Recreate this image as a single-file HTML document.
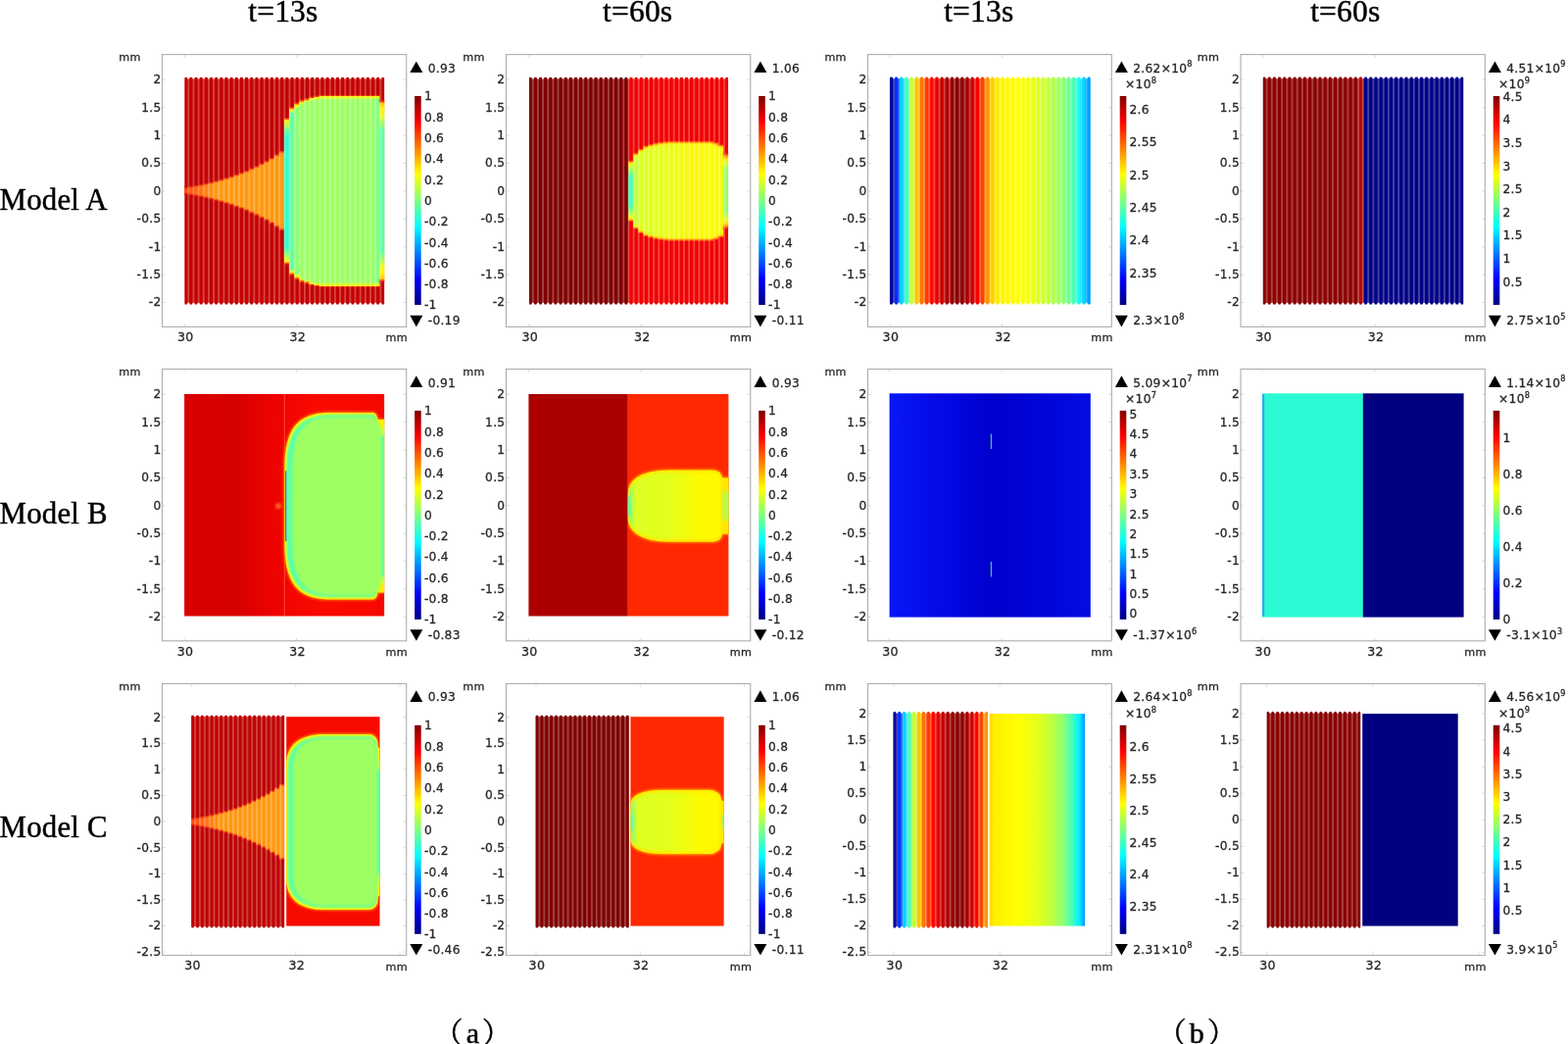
<!DOCTYPE html>
<html lang="en">
<head>
<meta charset="utf-8">
<title>Model A, B, C simulation results at t=13s and t=60s</title>
<style>
html,body{margin:0;padding:0;background:#fff;}
body{width:1600px;height:1065px;overflow:hidden;}
svg{display:block;}
.plots text{font-family:"DejaVu Sans", "Liberation Sans", sans-serif;stroke:#262626;stroke-width:0.28px;paint-order:stroke;letter-spacing:0.3px;}
.big text{font-family:"Liberation Serif", "Noto Serif CJK SC", serif;fill:#000;stroke:#000;stroke-width:0.45px;letter-spacing:0.2px;}
</style>
</head>
<body>
<svg width="1600" height="1065" viewBox="0 0 1600 1065">
<defs>
<linearGradient id="jetg" x1="0" y1="1" x2="0" y2="0"><stop offset="0" stop-color="#000080"/><stop offset="0.125" stop-color="#0000ff"/><stop offset="0.375" stop-color="#00ffff"/><stop offset="0.625" stop-color="#ffff00"/><stop offset="0.875" stop-color="#ff0000"/><stop offset="1" stop-color="#800000"/></linearGradient>
<filter id="b1" x="-20%" y="-20%" width="140%" height="140%"><feGaussianBlur stdDeviation="0.5"/></filter>
<filter id="b2" x="-20%" y="-20%" width="140%" height="140%"><feGaussianBlur stdDeviation="0.8"/></filter>
<filter id="b3" x="-20%" y="-20%" width="140%" height="140%"><feGaussianBlur stdDeviation="1.2"/></filter>
<filter id="b4" x="-20%" y="-20%" width="140%" height="140%"><feGaussianBlur stdDeviation="2.0"/></filter>
<filter id="b5" x="-20%" y="-20%" width="140%" height="140%"><feGaussianBlur stdDeviation="1.6"/></filter>
<filter id="b7" filterUnits="userSpaceOnUse" x="184.15" y="75.6" width="212.3" height="238.2"><feGaussianBlur stdDeviation="0.5"/></filter>
<mask id="m6" maskUnits="userSpaceOnUse" x="184.15" y="75.6" width="212.3" height="238.2"><rect x="188.78" y="80.53" width="203.04" height="228.34" fill="rgb(189,189,189)"/><path d="M189.73 80.23V309.17M194.89 80.23V309.17M200.04 80.23V309.17M205.2 80.23V309.17M210.36 80.23V309.17M215.52 80.23V309.17M220.67 80.23V309.17M225.83 80.23V309.17M230.99 80.23V309.17M236.15 80.23V309.17M241.3 80.23V309.17M246.46 80.23V309.17M251.62 80.23V309.17M256.78 80.23V309.17M261.93 80.23V309.17M267.09 80.23V309.17M272.25 80.23V309.17M277.41 80.23V309.17M282.56 80.23V309.17M287.72 80.23V309.17M292.88 80.23V309.17M298.04 80.23V309.17M303.19 80.23V309.17M308.35 80.23V309.17M313.51 80.23V309.17M318.67 80.23V309.17M323.82 80.23V309.17M328.98 80.23V309.17M334.14 80.23V309.17M339.3 80.23V309.17M344.45 80.23V309.17M349.61 80.23V309.17M354.77 80.23V309.17M359.93 80.23V309.17M365.08 80.23V309.17M370.24 80.23V309.17M375.4 80.23V309.17M380.56 80.23V309.17M385.71 80.23V309.17M390.87 80.23V309.17" stroke="#fff" stroke-width="3.26" stroke-linecap="round" fill="none" filter="url(#b7)"/></mask>
<linearGradient id="g8" gradientUnits="userSpaceOnUse" x1="0" y1="190.27" x2="0" y2="198.73"><stop offset="0" stop-color="#c40000"/><stop offset="0.13" stop-color="#ee2400"/><stop offset="0.34" stop-color="#ff4d14"/><stop offset="0.5" stop-color="#ff4d14"/><stop offset="0.66" stop-color="#ff4d14"/><stop offset="0.87" stop-color="#ee2400"/><stop offset="1" stop-color="#c40000"/></linearGradient>
<linearGradient id="g9" gradientUnits="userSpaceOnUse" x1="0" y1="189.36" x2="0" y2="199.64"><stop offset="0" stop-color="#c40000"/><stop offset="0.11" stop-color="#ee2400"/><stop offset="0.28" stop-color="#ff5a13"/><stop offset="0.5" stop-color="#ff5a13"/><stop offset="0.72" stop-color="#ff5a13"/><stop offset="0.89" stop-color="#ee2400"/><stop offset="1" stop-color="#c40000"/></linearGradient>
<linearGradient id="g10" gradientUnits="userSpaceOnUse" x1="0" y1="188.38" x2="0" y2="200.62"><stop offset="0" stop-color="#c40000"/><stop offset="0.09" stop-color="#ee2400"/><stop offset="0.24" stop-color="#ff6712"/><stop offset="0.5" stop-color="#ff6712"/><stop offset="0.76" stop-color="#ff6712"/><stop offset="0.91" stop-color="#ee2400"/><stop offset="1" stop-color="#c40000"/></linearGradient>
<linearGradient id="g11" gradientUnits="userSpaceOnUse" x1="0" y1="187.32" x2="0" y2="201.68"><stop offset="0" stop-color="#c40000"/><stop offset="0.08" stop-color="#ee2400"/><stop offset="0.2" stop-color="#ff7412"/><stop offset="0.5" stop-color="#ff7412"/><stop offset="0.8" stop-color="#ff7412"/><stop offset="0.92" stop-color="#ee2400"/><stop offset="1" stop-color="#c40000"/></linearGradient>
<linearGradient id="g12" gradientUnits="userSpaceOnUse" x1="0" y1="186.18" x2="0" y2="202.82"><stop offset="0" stop-color="#c40000"/><stop offset="0.07" stop-color="#ee2400"/><stop offset="0.17" stop-color="#ff8111"/><stop offset="0.5" stop-color="#ff8111"/><stop offset="0.83" stop-color="#ff8111"/><stop offset="0.93" stop-color="#ee2400"/><stop offset="1" stop-color="#c40000"/></linearGradient>
<linearGradient id="g13" gradientUnits="userSpaceOnUse" x1="0" y1="184.95" x2="0" y2="204.05"><stop offset="0" stop-color="#c40000"/><stop offset="0.06" stop-color="#ee2400"/><stop offset="0.15" stop-color="#ff8e10"/><stop offset="0.5" stop-color="#ff8e10"/><stop offset="0.85" stop-color="#ff8e10"/><stop offset="0.94" stop-color="#ee2400"/><stop offset="1" stop-color="#c40000"/></linearGradient>
<linearGradient id="g14" gradientUnits="userSpaceOnUse" x1="0" y1="183.63" x2="0" y2="205.37"><stop offset="0" stop-color="#c40000"/><stop offset="0.05" stop-color="#ee2400"/><stop offset="0.13" stop-color="#ff9810"/><stop offset="0.5" stop-color="#ff9810"/><stop offset="0.87" stop-color="#ff9810"/><stop offset="0.95" stop-color="#ee2400"/><stop offset="1" stop-color="#c40000"/></linearGradient>
<linearGradient id="g15" gradientUnits="userSpaceOnUse" x1="0" y1="182.2" x2="0" y2="206.8"><stop offset="0" stop-color="#c40000"/><stop offset="0.04" stop-color="#ee2400"/><stop offset="0.12" stop-color="#ff9810"/><stop offset="0.5" stop-color="#ff9810"/><stop offset="0.88" stop-color="#ff9810"/><stop offset="0.96" stop-color="#ee2400"/><stop offset="1" stop-color="#c40000"/></linearGradient>
<linearGradient id="g16" gradientUnits="userSpaceOnUse" x1="0" y1="180.66" x2="0" y2="208.34"><stop offset="0" stop-color="#c40000"/><stop offset="0.04" stop-color="#ee2400"/><stop offset="0.1" stop-color="#ff9810"/><stop offset="0.5" stop-color="#ff9810"/><stop offset="0.9" stop-color="#ff9810"/><stop offset="0.96" stop-color="#ee2400"/><stop offset="1" stop-color="#c40000"/></linearGradient>
<linearGradient id="g17" gradientUnits="userSpaceOnUse" x1="0" y1="179" x2="0" y2="210"><stop offset="0" stop-color="#c40000"/><stop offset="0.04" stop-color="#ee2400"/><stop offset="0.09" stop-color="#ff9810"/><stop offset="0.5" stop-color="#ff9810"/><stop offset="0.91" stop-color="#ff9810"/><stop offset="0.96" stop-color="#ee2400"/><stop offset="1" stop-color="#c40000"/></linearGradient>
<linearGradient id="g18" gradientUnits="userSpaceOnUse" x1="0" y1="177.21" x2="0" y2="211.79"><stop offset="0" stop-color="#c40000"/><stop offset="0.03" stop-color="#ee2400"/><stop offset="0.08" stop-color="#ff9810"/><stop offset="0.5" stop-color="#ff9810"/><stop offset="0.92" stop-color="#ff9810"/><stop offset="0.97" stop-color="#ee2400"/><stop offset="1" stop-color="#c40000"/></linearGradient>
<linearGradient id="g19" gradientUnits="userSpaceOnUse" x1="0" y1="175.29" x2="0" y2="213.71"><stop offset="0" stop-color="#c40000"/><stop offset="0.03" stop-color="#ee2400"/><stop offset="0.08" stop-color="#ff9810"/><stop offset="0.5" stop-color="#ff9810"/><stop offset="0.92" stop-color="#ff9810"/><stop offset="0.97" stop-color="#ee2400"/><stop offset="1" stop-color="#c40000"/></linearGradient>
<linearGradient id="g20" gradientUnits="userSpaceOnUse" x1="0" y1="173.21" x2="0" y2="215.79"><stop offset="0" stop-color="#c40000"/><stop offset="0.03" stop-color="#ee2400"/><stop offset="0.07" stop-color="#ff9810"/><stop offset="0.5" stop-color="#ff9810"/><stop offset="0.93" stop-color="#ff9810"/><stop offset="0.97" stop-color="#ee2400"/><stop offset="1" stop-color="#c40000"/></linearGradient>
<linearGradient id="g21" gradientUnits="userSpaceOnUse" x1="0" y1="170.97" x2="0" y2="218.03"><stop offset="0" stop-color="#c40000"/><stop offset="0.02" stop-color="#ee2400"/><stop offset="0.06" stop-color="#ff9810"/><stop offset="0.5" stop-color="#ff9810"/><stop offset="0.94" stop-color="#ff9810"/><stop offset="0.98" stop-color="#ee2400"/><stop offset="1" stop-color="#c40000"/></linearGradient>
<linearGradient id="g22" gradientUnits="userSpaceOnUse" x1="0" y1="168.56" x2="0" y2="220.44"><stop offset="0" stop-color="#c40000"/><stop offset="0.02" stop-color="#ee2400"/><stop offset="0.06" stop-color="#ff9810"/><stop offset="0.5" stop-color="#ff9810"/><stop offset="0.94" stop-color="#ff9810"/><stop offset="0.98" stop-color="#ee2400"/><stop offset="1" stop-color="#c40000"/></linearGradient>
<linearGradient id="g23" gradientUnits="userSpaceOnUse" x1="0" y1="165.95" x2="0" y2="223.05"><stop offset="0" stop-color="#c40000"/><stop offset="0.02" stop-color="#ee2400"/><stop offset="0.05" stop-color="#ff9810"/><stop offset="0.5" stop-color="#ff9810"/><stop offset="0.95" stop-color="#ff9810"/><stop offset="0.98" stop-color="#ee2400"/><stop offset="1" stop-color="#c40000"/></linearGradient>
<linearGradient id="g24" gradientUnits="userSpaceOnUse" x1="0" y1="163.15" x2="0" y2="225.85"><stop offset="0" stop-color="#c40000"/><stop offset="0.02" stop-color="#ee2400"/><stop offset="0.05" stop-color="#ff9810"/><stop offset="0.5" stop-color="#ff9810"/><stop offset="0.95" stop-color="#ff9810"/><stop offset="0.98" stop-color="#ee2400"/><stop offset="1" stop-color="#c40000"/></linearGradient>
<linearGradient id="g25" gradientUnits="userSpaceOnUse" x1="0" y1="160.13" x2="0" y2="228.87"><stop offset="0" stop-color="#c40000"/><stop offset="0.02" stop-color="#ee2400"/><stop offset="0.04" stop-color="#ff9810"/><stop offset="0.5" stop-color="#ff9810"/><stop offset="0.96" stop-color="#ff9810"/><stop offset="0.98" stop-color="#ee2400"/><stop offset="1" stop-color="#c40000"/></linearGradient>
<linearGradient id="g26" gradientUnits="userSpaceOnUse" x1="0" y1="156.87" x2="0" y2="232.13"><stop offset="0" stop-color="#c40000"/><stop offset="0.01" stop-color="#ee2400"/><stop offset="0.04" stop-color="#ff9810"/><stop offset="0.5" stop-color="#ff9810"/><stop offset="0.96" stop-color="#ff9810"/><stop offset="0.99" stop-color="#ee2400"/><stop offset="1" stop-color="#c40000"/></linearGradient>
<linearGradient id="g27" gradientUnits="userSpaceOnUse" x1="0" y1="153.36" x2="0" y2="235.64"><stop offset="0" stop-color="#c40000"/><stop offset="0.01" stop-color="#ee2400"/><stop offset="0.04" stop-color="#ff9810"/><stop offset="0.5" stop-color="#ff9810"/><stop offset="0.96" stop-color="#ff9810"/><stop offset="0.99" stop-color="#ee2400"/><stop offset="1" stop-color="#c40000"/></linearGradient>
<linearGradient id="g28" gradientUnits="userSpaceOnUse" x1="0" y1="119.7" x2="0" y2="270.1"><stop offset="0" stop-color="#c40000"/><stop offset="0.01" stop-color="#ff4600"/><stop offset="0.02" stop-color="#ffec00"/><stop offset="0.05" stop-color="#beff46"/><stop offset="0.09" stop-color="#60ffa0"/><stop offset="0.13" stop-color="#30ffcd"/><stop offset="0.5" stop-color="#30ffcd"/><stop offset="0.87" stop-color="#30ffcd"/><stop offset="0.91" stop-color="#60ffa0"/><stop offset="0.95" stop-color="#beff46"/><stop offset="0.98" stop-color="#ffec00"/><stop offset="0.99" stop-color="#ff4600"/><stop offset="1" stop-color="#c40000"/></linearGradient>
<linearGradient id="g29" gradientUnits="userSpaceOnUse" x1="0" y1="108.5" x2="0" y2="281.3"><stop offset="0" stop-color="#c40000"/><stop offset="0.01" stop-color="#ff4600"/><stop offset="0.02" stop-color="#fff000"/><stop offset="0.03" stop-color="#c8ff3c"/><stop offset="0.04" stop-color="#60ffa0"/><stop offset="0.5" stop-color="#60ffa0"/><stop offset="0.96" stop-color="#60ffa0"/><stop offset="0.97" stop-color="#c8ff3c"/><stop offset="0.98" stop-color="#fff000"/><stop offset="0.99" stop-color="#ff4600"/><stop offset="1" stop-color="#c40000"/></linearGradient>
<linearGradient id="g30" gradientUnits="userSpaceOnUse" x1="0" y1="103.9" x2="0" y2="285.9"><stop offset="0" stop-color="#c40000"/><stop offset="0.01" stop-color="#ff4600"/><stop offset="0.02" stop-color="#fff000"/><stop offset="0.03" stop-color="#c8ff3c"/><stop offset="0.04" stop-color="#8cff74"/><stop offset="0.5" stop-color="#8cff74"/><stop offset="0.96" stop-color="#8cff74"/><stop offset="0.97" stop-color="#c8ff3c"/><stop offset="0.98" stop-color="#fff000"/><stop offset="0.99" stop-color="#ff4600"/><stop offset="1" stop-color="#c40000"/></linearGradient>
<linearGradient id="g31" gradientUnits="userSpaceOnUse" x1="0" y1="100.9" x2="0" y2="288.9"><stop offset="0" stop-color="#c40000"/><stop offset="0.01" stop-color="#ff4600"/><stop offset="0.02" stop-color="#fff000"/><stop offset="0.02" stop-color="#c8ff3c"/><stop offset="0.04" stop-color="#9cff64"/><stop offset="0.5" stop-color="#9cff64"/><stop offset="0.96" stop-color="#9cff64"/><stop offset="0.98" stop-color="#c8ff3c"/><stop offset="0.98" stop-color="#fff000"/><stop offset="0.99" stop-color="#ff4600"/><stop offset="1" stop-color="#c40000"/></linearGradient>
<linearGradient id="g32" gradientUnits="userSpaceOnUse" x1="0" y1="99.3" x2="0" y2="290.5"><stop offset="0" stop-color="#c40000"/><stop offset="0.01" stop-color="#ff4600"/><stop offset="0.02" stop-color="#fff000"/><stop offset="0.02" stop-color="#c8ff3c"/><stop offset="0.03" stop-color="#9cff64"/><stop offset="0.5" stop-color="#9cff64"/><stop offset="0.97" stop-color="#9cff64"/><stop offset="0.98" stop-color="#c8ff3c"/><stop offset="0.98" stop-color="#fff000"/><stop offset="0.99" stop-color="#ff4600"/><stop offset="1" stop-color="#c40000"/></linearGradient>
<linearGradient id="g33" gradientUnits="userSpaceOnUse" x1="0" y1="97.9" x2="0" y2="291.9"><stop offset="0" stop-color="#c40000"/><stop offset="0.01" stop-color="#ff4600"/><stop offset="0.01" stop-color="#fff000"/><stop offset="0.02" stop-color="#c8ff3c"/><stop offset="0.03" stop-color="#9cff64"/><stop offset="0.5" stop-color="#9cff64"/><stop offset="0.97" stop-color="#9cff64"/><stop offset="0.98" stop-color="#c8ff3c"/><stop offset="0.99" stop-color="#fff000"/><stop offset="0.99" stop-color="#ff4600"/><stop offset="1" stop-color="#c40000"/></linearGradient>
<linearGradient id="g34" gradientUnits="userSpaceOnUse" x1="0" y1="96.9" x2="0" y2="292.9"><stop offset="0" stop-color="#c40000"/><stop offset="0.01" stop-color="#ff4600"/><stop offset="0.01" stop-color="#fff000"/><stop offset="0.02" stop-color="#c8ff3c"/><stop offset="0.03" stop-color="#9cff64"/><stop offset="0.5" stop-color="#9cff64"/><stop offset="0.97" stop-color="#9cff64"/><stop offset="0.98" stop-color="#c8ff3c"/><stop offset="0.99" stop-color="#fff000"/><stop offset="0.99" stop-color="#ff4600"/><stop offset="1" stop-color="#c40000"/></linearGradient>
<linearGradient id="g35" gradientUnits="userSpaceOnUse" x1="0" y1="96.3" x2="0" y2="293.5"><stop offset="0" stop-color="#c40000"/><stop offset="0.01" stop-color="#ff4600"/><stop offset="0.01" stop-color="#fff000"/><stop offset="0.02" stop-color="#c8ff3c"/><stop offset="0.03" stop-color="#9cff64"/><stop offset="0.5" stop-color="#9cff64"/><stop offset="0.97" stop-color="#9cff64"/><stop offset="0.98" stop-color="#c8ff3c"/><stop offset="0.99" stop-color="#fff000"/><stop offset="0.99" stop-color="#ff4600"/><stop offset="1" stop-color="#c40000"/></linearGradient>
<linearGradient id="g36" gradientUnits="userSpaceOnUse" x1="0" y1="96.3" x2="0" y2="293.5"><stop offset="0" stop-color="#c40000"/><stop offset="0.01" stop-color="#ff4600"/><stop offset="0.01" stop-color="#fff000"/><stop offset="0.02" stop-color="#c8ff3c"/><stop offset="0.03" stop-color="#9cff64"/><stop offset="0.5" stop-color="#9cff64"/><stop offset="0.97" stop-color="#9cff64"/><stop offset="0.98" stop-color="#c8ff3c"/><stop offset="0.99" stop-color="#fff000"/><stop offset="0.99" stop-color="#ff4600"/><stop offset="1" stop-color="#c40000"/></linearGradient>
<linearGradient id="g37" gradientUnits="userSpaceOnUse" x1="0" y1="96.3" x2="0" y2="293.5"><stop offset="0" stop-color="#c40000"/><stop offset="0.01" stop-color="#ff4600"/><stop offset="0.01" stop-color="#fff000"/><stop offset="0.02" stop-color="#c8ff3c"/><stop offset="0.03" stop-color="#9cff64"/><stop offset="0.5" stop-color="#9cff64"/><stop offset="0.97" stop-color="#9cff64"/><stop offset="0.98" stop-color="#c8ff3c"/><stop offset="0.99" stop-color="#fff000"/><stop offset="0.99" stop-color="#ff4600"/><stop offset="1" stop-color="#c40000"/></linearGradient>
<linearGradient id="g38" gradientUnits="userSpaceOnUse" x1="0" y1="96.3" x2="0" y2="293.5"><stop offset="0" stop-color="#c40000"/><stop offset="0.01" stop-color="#ff4600"/><stop offset="0.01" stop-color="#fff000"/><stop offset="0.02" stop-color="#c8ff3c"/><stop offset="0.03" stop-color="#9cff64"/><stop offset="0.5" stop-color="#9cff64"/><stop offset="0.97" stop-color="#9cff64"/><stop offset="0.98" stop-color="#c8ff3c"/><stop offset="0.99" stop-color="#fff000"/><stop offset="0.99" stop-color="#ff4600"/><stop offset="1" stop-color="#c40000"/></linearGradient>
<linearGradient id="g39" gradientUnits="userSpaceOnUse" x1="0" y1="96.3" x2="0" y2="293.5"><stop offset="0" stop-color="#c40000"/><stop offset="0.01" stop-color="#ff4600"/><stop offset="0.01" stop-color="#fff000"/><stop offset="0.02" stop-color="#c8ff3c"/><stop offset="0.03" stop-color="#9cff64"/><stop offset="0.5" stop-color="#9cff64"/><stop offset="0.97" stop-color="#9cff64"/><stop offset="0.98" stop-color="#c8ff3c"/><stop offset="0.99" stop-color="#fff000"/><stop offset="0.99" stop-color="#ff4600"/><stop offset="1" stop-color="#c40000"/></linearGradient>
<linearGradient id="g40" gradientUnits="userSpaceOnUse" x1="0" y1="96.3" x2="0" y2="293.5"><stop offset="0" stop-color="#c40000"/><stop offset="0.01" stop-color="#ff4600"/><stop offset="0.01" stop-color="#fff000"/><stop offset="0.02" stop-color="#c8ff3c"/><stop offset="0.03" stop-color="#9cff64"/><stop offset="0.5" stop-color="#9cff64"/><stop offset="0.97" stop-color="#9cff64"/><stop offset="0.98" stop-color="#c8ff3c"/><stop offset="0.99" stop-color="#fff000"/><stop offset="0.99" stop-color="#ff4600"/><stop offset="1" stop-color="#c40000"/></linearGradient>
<linearGradient id="g41" gradientUnits="userSpaceOnUse" x1="0" y1="96.3" x2="0" y2="293.5"><stop offset="0" stop-color="#c40000"/><stop offset="0.01" stop-color="#ff4600"/><stop offset="0.01" stop-color="#fff000"/><stop offset="0.02" stop-color="#c8ff3c"/><stop offset="0.03" stop-color="#9cff64"/><stop offset="0.5" stop-color="#9cff64"/><stop offset="0.97" stop-color="#9cff64"/><stop offset="0.98" stop-color="#c8ff3c"/><stop offset="0.99" stop-color="#fff000"/><stop offset="0.99" stop-color="#ff4600"/><stop offset="1" stop-color="#c40000"/></linearGradient>
<linearGradient id="g42" gradientUnits="userSpaceOnUse" x1="0" y1="96.3" x2="0" y2="293.5"><stop offset="0" stop-color="#c40000"/><stop offset="0.01" stop-color="#ff4600"/><stop offset="0.01" stop-color="#fff000"/><stop offset="0.02" stop-color="#c8ff3c"/><stop offset="0.03" stop-color="#9cff64"/><stop offset="0.5" stop-color="#9cff64"/><stop offset="0.97" stop-color="#9cff64"/><stop offset="0.98" stop-color="#c8ff3c"/><stop offset="0.99" stop-color="#fff000"/><stop offset="0.99" stop-color="#ff4600"/><stop offset="1" stop-color="#c40000"/></linearGradient>
<linearGradient id="g43" gradientUnits="userSpaceOnUse" x1="0" y1="96.3" x2="0" y2="293.5"><stop offset="0" stop-color="#c40000"/><stop offset="0.01" stop-color="#ff4600"/><stop offset="0.01" stop-color="#fff000"/><stop offset="0.02" stop-color="#c8ff3c"/><stop offset="0.03" stop-color="#9cff64"/><stop offset="0.5" stop-color="#9cff64"/><stop offset="0.97" stop-color="#9cff64"/><stop offset="0.98" stop-color="#c8ff3c"/><stop offset="0.99" stop-color="#fff000"/><stop offset="0.99" stop-color="#ff4600"/><stop offset="1" stop-color="#c40000"/></linearGradient>
<linearGradient id="g44" gradientUnits="userSpaceOnUse" x1="0" y1="96.3" x2="0" y2="293.5"><stop offset="0" stop-color="#c40000"/><stop offset="0.01" stop-color="#ff4600"/><stop offset="0.01" stop-color="#fff000"/><stop offset="0.02" stop-color="#c8ff3c"/><stop offset="0.03" stop-color="#9cff64"/><stop offset="0.5" stop-color="#9cff64"/><stop offset="0.97" stop-color="#9cff64"/><stop offset="0.98" stop-color="#c8ff3c"/><stop offset="0.99" stop-color="#fff000"/><stop offset="0.99" stop-color="#ff4600"/><stop offset="1" stop-color="#c40000"/></linearGradient>
<linearGradient id="g45" gradientUnits="userSpaceOnUse" x1="0" y1="96.3" x2="0" y2="293.5"><stop offset="0" stop-color="#c40000"/><stop offset="0.01" stop-color="#ff4600"/><stop offset="0.01" stop-color="#fff000"/><stop offset="0.02" stop-color="#c8ff3c"/><stop offset="0.03" stop-color="#9cff64"/><stop offset="0.5" stop-color="#9cff64"/><stop offset="0.97" stop-color="#9cff64"/><stop offset="0.98" stop-color="#c8ff3c"/><stop offset="0.99" stop-color="#fff000"/><stop offset="0.99" stop-color="#ff4600"/><stop offset="1" stop-color="#c40000"/></linearGradient>
<linearGradient id="g46" gradientUnits="userSpaceOnUse" x1="0" y1="96.3" x2="0" y2="293.5"><stop offset="0" stop-color="#c40000"/><stop offset="0.01" stop-color="#ff4600"/><stop offset="0.01" stop-color="#fff000"/><stop offset="0.02" stop-color="#c8ff3c"/><stop offset="0.03" stop-color="#84ff80"/><stop offset="0.5" stop-color="#84ff80"/><stop offset="0.97" stop-color="#84ff80"/><stop offset="0.98" stop-color="#c8ff3c"/><stop offset="0.99" stop-color="#fff000"/><stop offset="0.99" stop-color="#ff4600"/><stop offset="1" stop-color="#c40000"/></linearGradient>
<linearGradient id="g47" gradientUnits="userSpaceOnUse" x1="0" y1="101.8" x2="0" y2="288"><stop offset="0" stop-color="#c40000"/><stop offset="0.01" stop-color="#ff3c00"/><stop offset="0.02" stop-color="#ffc800"/><stop offset="0.05" stop-color="#fff000"/><stop offset="0.09" stop-color="#ebfc18"/><stop offset="0.12" stop-color="#aaff5a"/><stop offset="0.17" stop-color="#5cffa6"/><stop offset="0.5" stop-color="#5cffa6"/><stop offset="0.83" stop-color="#5cffa6"/><stop offset="0.88" stop-color="#aaff5a"/><stop offset="0.91" stop-color="#ebfc18"/><stop offset="0.95" stop-color="#fff000"/><stop offset="0.98" stop-color="#ffc800"/><stop offset="0.99" stop-color="#ff3c00"/><stop offset="1" stop-color="#c40000"/></linearGradient>
<filter id="b49" filterUnits="userSpaceOnUse" x="535.65" y="75.6" width="211.6" height="238.2"><feGaussianBlur stdDeviation="0.5"/></filter>
<mask id="m48" maskUnits="userSpaceOnUse" x="535.65" y="75.6" width="211.6" height="238.2"><rect x="540.27" y="80.52" width="202.36" height="228.36" fill="rgb(189,189,189)"/><path d="M541.22 80.22V309.18M546.36 80.22V309.18M551.5 80.22V309.18M556.64 80.22V309.18M561.78 80.22V309.18M566.92 80.22V309.18M572.06 80.22V309.18M577.2 80.22V309.18M582.34 80.22V309.18M587.48 80.22V309.18M592.62 80.22V309.18M597.76 80.22V309.18M602.9 80.22V309.18M608.04 80.22V309.18M613.18 80.22V309.18M618.32 80.22V309.18M623.46 80.22V309.18M628.6 80.22V309.18M633.74 80.22V309.18M638.88 80.22V309.18M644.02 80.22V309.18M649.16 80.22V309.18M654.3 80.22V309.18M659.44 80.22V309.18M664.58 80.22V309.18M669.72 80.22V309.18M674.86 80.22V309.18M680 80.22V309.18M685.14 80.22V309.18M690.28 80.22V309.18M695.42 80.22V309.18M700.56 80.22V309.18M705.7 80.22V309.18M710.84 80.22V309.18M715.98 80.22V309.18M721.12 80.22V309.18M726.26 80.22V309.18M731.4 80.22V309.18M736.54 80.22V309.18M741.68 80.22V309.18" stroke="#fff" stroke-width="3.24" stroke-linecap="round" fill="none" filter="url(#b49)"/></mask>
<linearGradient id="g50" gradientUnits="userSpaceOnUse" x1="0" y1="163.2" x2="0" y2="226.6"><stop offset="0" stop-color="#f00000"/><stop offset="0.02" stop-color="#ff5000"/><stop offset="0.05" stop-color="#ffe100"/><stop offset="0.09" stop-color="#e1ff1e"/><stop offset="0.17" stop-color="#96ff69"/><stop offset="0.27" stop-color="#46ffb8"/><stop offset="0.5" stop-color="#46ffb8"/><stop offset="0.73" stop-color="#46ffb8"/><stop offset="0.83" stop-color="#96ff69"/><stop offset="0.91" stop-color="#e1ff1e"/><stop offset="0.95" stop-color="#ffe100"/><stop offset="0.98" stop-color="#ff5000"/><stop offset="1" stop-color="#f00000"/></linearGradient>
<linearGradient id="g51" gradientUnits="userSpaceOnUse" x1="0" y1="155.2" x2="0" y2="234.6"><stop offset="0" stop-color="#f00000"/><stop offset="0.02" stop-color="#ff5000"/><stop offset="0.04" stop-color="#ffeb00"/><stop offset="0.06" stop-color="#e1ff20"/><stop offset="0.13" stop-color="#c4ff3e"/><stop offset="0.5" stop-color="#c4ff3e"/><stop offset="0.87" stop-color="#c4ff3e"/><stop offset="0.94" stop-color="#e1ff20"/><stop offset="0.96" stop-color="#ffeb00"/><stop offset="0.98" stop-color="#ff5000"/><stop offset="1" stop-color="#f00000"/></linearGradient>
<linearGradient id="g52" gradientUnits="userSpaceOnUse" x1="0" y1="151.4" x2="0" y2="238.4"><stop offset="0" stop-color="#f00000"/><stop offset="0.01" stop-color="#ff5000"/><stop offset="0.03" stop-color="#ffe100"/><stop offset="0.05" stop-color="#dafe26"/><stop offset="0.5" stop-color="#dafe26"/><stop offset="0.95" stop-color="#dafe26"/><stop offset="0.97" stop-color="#ffe100"/><stop offset="0.99" stop-color="#ff5000"/><stop offset="1" stop-color="#f00000"/></linearGradient>
<linearGradient id="g53" gradientUnits="userSpaceOnUse" x1="0" y1="148.1" x2="0" y2="241.7"><stop offset="0" stop-color="#f00000"/><stop offset="0.01" stop-color="#ff5000"/><stop offset="0.03" stop-color="#ffe100"/><stop offset="0.05" stop-color="#ddfe23"/><stop offset="0.5" stop-color="#ddfe23"/><stop offset="0.95" stop-color="#ddfe23"/><stop offset="0.97" stop-color="#ffe100"/><stop offset="0.99" stop-color="#ff5000"/><stop offset="1" stop-color="#f00000"/></linearGradient>
<linearGradient id="g54" gradientUnits="userSpaceOnUse" x1="0" y1="146.6" x2="0" y2="243.2"><stop offset="0" stop-color="#f00000"/><stop offset="0.01" stop-color="#ff5000"/><stop offset="0.03" stop-color="#ffe100"/><stop offset="0.05" stop-color="#e0fd21"/><stop offset="0.5" stop-color="#e0fd21"/><stop offset="0.95" stop-color="#e0fd21"/><stop offset="0.97" stop-color="#ffe100"/><stop offset="0.99" stop-color="#ff5000"/><stop offset="1" stop-color="#f00000"/></linearGradient>
<linearGradient id="g55" gradientUnits="userSpaceOnUse" x1="0" y1="145.2" x2="0" y2="244.6"><stop offset="0" stop-color="#f00000"/><stop offset="0.01" stop-color="#ff5000"/><stop offset="0.03" stop-color="#ffe100"/><stop offset="0.05" stop-color="#e3fd1e"/><stop offset="0.5" stop-color="#e3fd1e"/><stop offset="0.95" stop-color="#e3fd1e"/><stop offset="0.97" stop-color="#ffe100"/><stop offset="0.99" stop-color="#ff5000"/><stop offset="1" stop-color="#f00000"/></linearGradient>
<linearGradient id="g56" gradientUnits="userSpaceOnUse" x1="0" y1="144.3" x2="0" y2="245.5"><stop offset="0" stop-color="#f00000"/><stop offset="0.01" stop-color="#ff5000"/><stop offset="0.03" stop-color="#ffe100"/><stop offset="0.05" stop-color="#e6fd1b"/><stop offset="0.5" stop-color="#e6fd1b"/><stop offset="0.95" stop-color="#e6fd1b"/><stop offset="0.97" stop-color="#ffe100"/><stop offset="0.99" stop-color="#ff5000"/><stop offset="1" stop-color="#f00000"/></linearGradient>
<linearGradient id="g57" gradientUnits="userSpaceOnUse" x1="0" y1="143.8" x2="0" y2="246"><stop offset="0" stop-color="#f00000"/><stop offset="0.01" stop-color="#ff5000"/><stop offset="0.03" stop-color="#ffe100"/><stop offset="0.05" stop-color="#e9fc18"/><stop offset="0.5" stop-color="#e9fc18"/><stop offset="0.95" stop-color="#e9fc18"/><stop offset="0.97" stop-color="#ffe100"/><stop offset="0.99" stop-color="#ff5000"/><stop offset="1" stop-color="#f00000"/></linearGradient>
<linearGradient id="g58" gradientUnits="userSpaceOnUse" x1="0" y1="143.4" x2="0" y2="246.4"><stop offset="0" stop-color="#f00000"/><stop offset="0.01" stop-color="#ff5000"/><stop offset="0.03" stop-color="#ffe100"/><stop offset="0.04" stop-color="#ecfc15"/><stop offset="0.5" stop-color="#ecfc15"/><stop offset="0.96" stop-color="#ecfc15"/><stop offset="0.97" stop-color="#ffe100"/><stop offset="0.99" stop-color="#ff5000"/><stop offset="1" stop-color="#f00000"/></linearGradient>
<linearGradient id="g59" gradientUnits="userSpaceOnUse" x1="0" y1="143.4" x2="0" y2="246.4"><stop offset="0" stop-color="#f00000"/><stop offset="0.01" stop-color="#ff5000"/><stop offset="0.03" stop-color="#ffe100"/><stop offset="0.04" stop-color="#effb12"/><stop offset="0.5" stop-color="#effb12"/><stop offset="0.96" stop-color="#effb12"/><stop offset="0.97" stop-color="#ffe100"/><stop offset="0.99" stop-color="#ff5000"/><stop offset="1" stop-color="#f00000"/></linearGradient>
<linearGradient id="g60" gradientUnits="userSpaceOnUse" x1="0" y1="143.4" x2="0" y2="246.4"><stop offset="0" stop-color="#f00000"/><stop offset="0.01" stop-color="#ff5000"/><stop offset="0.03" stop-color="#ffe100"/><stop offset="0.04" stop-color="#f2fb10"/><stop offset="0.5" stop-color="#f2fb10"/><stop offset="0.96" stop-color="#f2fb10"/><stop offset="0.97" stop-color="#ffe100"/><stop offset="0.99" stop-color="#ff5000"/><stop offset="1" stop-color="#f00000"/></linearGradient>
<linearGradient id="g61" gradientUnits="userSpaceOnUse" x1="0" y1="143.4" x2="0" y2="246.4"><stop offset="0" stop-color="#f00000"/><stop offset="0.01" stop-color="#ff5000"/><stop offset="0.03" stop-color="#ffe100"/><stop offset="0.04" stop-color="#f5fb0d"/><stop offset="0.5" stop-color="#f5fb0d"/><stop offset="0.96" stop-color="#f5fb0d"/><stop offset="0.97" stop-color="#ffe100"/><stop offset="0.99" stop-color="#ff5000"/><stop offset="1" stop-color="#f00000"/></linearGradient>
<linearGradient id="g62" gradientUnits="userSpaceOnUse" x1="0" y1="143.4" x2="0" y2="246.4"><stop offset="0" stop-color="#f00000"/><stop offset="0.01" stop-color="#ff5000"/><stop offset="0.03" stop-color="#ffe100"/><stop offset="0.04" stop-color="#f8fa0a"/><stop offset="0.5" stop-color="#f8fa0a"/><stop offset="0.96" stop-color="#f8fa0a"/><stop offset="0.97" stop-color="#ffe100"/><stop offset="0.99" stop-color="#ff5000"/><stop offset="1" stop-color="#f00000"/></linearGradient>
<linearGradient id="g63" gradientUnits="userSpaceOnUse" x1="0" y1="143.4" x2="0" y2="246.4"><stop offset="0" stop-color="#f00000"/><stop offset="0.01" stop-color="#ff5000"/><stop offset="0.03" stop-color="#ffe100"/><stop offset="0.04" stop-color="#fafa08"/><stop offset="0.5" stop-color="#fafa08"/><stop offset="0.96" stop-color="#fafa08"/><stop offset="0.97" stop-color="#ffe100"/><stop offset="0.99" stop-color="#ff5000"/><stop offset="1" stop-color="#f00000"/></linearGradient>
<linearGradient id="g64" gradientUnits="userSpaceOnUse" x1="0" y1="143.4" x2="0" y2="246.4"><stop offset="0" stop-color="#f00000"/><stop offset="0.01" stop-color="#ff5000"/><stop offset="0.03" stop-color="#ffe100"/><stop offset="0.04" stop-color="#fafa08"/><stop offset="0.5" stop-color="#fafa08"/><stop offset="0.96" stop-color="#fafa08"/><stop offset="0.97" stop-color="#ffe100"/><stop offset="0.99" stop-color="#ff5000"/><stop offset="1" stop-color="#f00000"/></linearGradient>
<linearGradient id="g65" gradientUnits="userSpaceOnUse" x1="0" y1="143.4" x2="0" y2="246.4"><stop offset="0" stop-color="#f00000"/><stop offset="0.01" stop-color="#ff5000"/><stop offset="0.03" stop-color="#ffe100"/><stop offset="0.04" stop-color="#fafa08"/><stop offset="0.5" stop-color="#fafa08"/><stop offset="0.96" stop-color="#fafa08"/><stop offset="0.97" stop-color="#ffe100"/><stop offset="0.99" stop-color="#ff5000"/><stop offset="1" stop-color="#f00000"/></linearGradient>
<linearGradient id="g66" gradientUnits="userSpaceOnUse" x1="0" y1="143.4" x2="0" y2="246.4"><stop offset="0" stop-color="#f00000"/><stop offset="0.01" stop-color="#ff5000"/><stop offset="0.03" stop-color="#ffe100"/><stop offset="0.04" stop-color="#fafa08"/><stop offset="0.5" stop-color="#fafa08"/><stop offset="0.96" stop-color="#fafa08"/><stop offset="0.97" stop-color="#ffe100"/><stop offset="0.99" stop-color="#ff5000"/><stop offset="1" stop-color="#f00000"/></linearGradient>
<linearGradient id="g67" gradientUnits="userSpaceOnUse" x1="0" y1="144.8" x2="0" y2="245"><stop offset="0" stop-color="#f00000"/><stop offset="0.01" stop-color="#ff5000"/><stop offset="0.03" stop-color="#ffe100"/><stop offset="0.05" stop-color="#fafa08"/><stop offset="0.5" stop-color="#fafa08"/><stop offset="0.95" stop-color="#fafa08"/><stop offset="0.97" stop-color="#ffe100"/><stop offset="0.99" stop-color="#ff5000"/><stop offset="1" stop-color="#f00000"/></linearGradient>
<linearGradient id="g68" gradientUnits="userSpaceOnUse" x1="0" y1="147.1" x2="0" y2="242.7"><stop offset="0" stop-color="#f00000"/><stop offset="0.01" stop-color="#ff5000"/><stop offset="0.03" stop-color="#ffe100"/><stop offset="0.05" stop-color="#fafa08"/><stop offset="0.5" stop-color="#fafa08"/><stop offset="0.95" stop-color="#fafa08"/><stop offset="0.97" stop-color="#ffe100"/><stop offset="0.99" stop-color="#ff5000"/><stop offset="1" stop-color="#f00000"/></linearGradient>
<linearGradient id="g69" gradientUnits="userSpaceOnUse" x1="0" y1="155.8" x2="0" y2="234"><stop offset="0" stop-color="#f00000"/><stop offset="0.02" stop-color="#ff3c00"/><stop offset="0.05" stop-color="#ffaa00"/><stop offset="0.09" stop-color="#ffec00"/><stop offset="0.14" stop-color="#d7ff2c"/><stop offset="0.23" stop-color="#96ff69"/><stop offset="0.5" stop-color="#96ff69"/><stop offset="0.77" stop-color="#96ff69"/><stop offset="0.86" stop-color="#d7ff2c"/><stop offset="0.91" stop-color="#ffec00"/><stop offset="0.95" stop-color="#ffaa00"/><stop offset="0.98" stop-color="#ff3c00"/><stop offset="1" stop-color="#f00000"/></linearGradient>
<filter id="b71" filterUnits="userSpaceOnUse" x="903.85" y="75.3" width="212.9" height="238.5"><feGaussianBlur stdDeviation="0.5"/></filter>
<mask id="m70" maskUnits="userSpaceOnUse" x="903.85" y="75.3" width="212.9" height="238.5"><rect x="908.49" y="80.24" width="203.63" height="228.63" fill="rgb(189,189,189)"/><path d="M909.44 79.94V309.16M914.61 79.94V309.16M919.78 79.94V309.16M924.95 79.94V309.16M930.13 79.94V309.16M935.3 79.94V309.16M940.47 79.94V309.16M945.64 79.94V309.16M950.82 79.94V309.16M955.99 79.94V309.16M961.16 79.94V309.16M966.33 79.94V309.16M971.51 79.94V309.16M976.68 79.94V309.16M981.85 79.94V309.16M987.02 79.94V309.16M992.2 79.94V309.16M997.37 79.94V309.16M1002.54 79.94V309.16M1007.71 79.94V309.16M1012.89 79.94V309.16M1018.06 79.94V309.16M1023.23 79.94V309.16M1028.4 79.94V309.16M1033.58 79.94V309.16M1038.75 79.94V309.16M1043.92 79.94V309.16M1049.09 79.94V309.16M1054.27 79.94V309.16M1059.44 79.94V309.16M1064.61 79.94V309.16M1069.78 79.94V309.16M1074.96 79.94V309.16M1080.13 79.94V309.16M1085.3 79.94V309.16M1090.47 79.94V309.16M1095.65 79.94V309.16M1100.82 79.94V309.16M1105.99 79.94V309.16M1111.16 79.94V309.16" stroke="#fff" stroke-width="3.27" stroke-linecap="round" fill="none" filter="url(#b71)"/></mask>
<filter id="b73" filterUnits="userSpaceOnUse" x="1284.45" y="75.3" width="213.1" height="238.5"><feGaussianBlur stdDeviation="0.5"/></filter>
<mask id="m72" maskUnits="userSpaceOnUse" x="1284.45" y="75.3" width="213.1" height="238.5"><rect x="1289.09" y="80.24" width="203.82" height="228.62" fill="rgb(189,189,189)"/><path d="M1290.04 79.94V309.16M1295.22 79.94V309.16M1300.39 79.94V309.16M1305.57 79.94V309.16M1310.75 79.94V309.16M1315.93 79.94V309.16M1321.1 79.94V309.16M1326.28 79.94V309.16M1331.46 79.94V309.16M1336.64 79.94V309.16M1341.81 79.94V309.16M1346.99 79.94V309.16M1352.17 79.94V309.16M1357.35 79.94V309.16M1362.52 79.94V309.16M1367.7 79.94V309.16M1372.88 79.94V309.16M1378.06 79.94V309.16M1383.23 79.94V309.16M1388.41 79.94V309.16M1393.59 79.94V309.16M1398.77 79.94V309.16M1403.94 79.94V309.16M1409.12 79.94V309.16M1414.3 79.94V309.16M1419.48 79.94V309.16M1424.65 79.94V309.16M1429.83 79.94V309.16M1435.01 79.94V309.16M1440.19 79.94V309.16M1445.36 79.94V309.16M1450.54 79.94V309.16M1455.72 79.94V309.16M1460.9 79.94V309.16M1466.07 79.94V309.16M1471.25 79.94V309.16M1476.43 79.94V309.16M1481.61 79.94V309.16M1486.78 79.94V309.16M1491.96 79.94V309.16" stroke="#fff" stroke-width="3.28" stroke-linecap="round" fill="none" filter="url(#b73)"/></mask>
<clipPath id="c74"><rect x="188.1" y="402" width="204" height="226.5"/></clipPath>
<linearGradient id="g75" x1="0" y1="0" x2="1" y2="0"><stop offset="0" stop-color="#da0000"/><stop offset="0.25" stop-color="#d60000"/><stop offset="0.5" stop-color="#f20400"/><stop offset="0.7" stop-color="#fa0a00"/><stop offset="1" stop-color="#f60800"/></linearGradient>
<clipPath id="c76"><rect x="640.6" y="402" width="102.8" height="226.5"/></clipPath>
<linearGradient id="g77" gradientUnits="userSpaceOnUse" x1="641.2" y1="0" x2="735.6" y2="0"><stop offset="0" stop-color="#60ffa0"/><stop offset="0.03" stop-color="#96ff69"/><stop offset="0.07" stop-color="#deff22"/><stop offset="0.45" stop-color="#e4ff1c"/><stop offset="0.78" stop-color="#fffa00"/><stop offset="1" stop-color="#fff800"/></linearGradient>
<linearGradient id="g78" x1="0" y1="0" x2="1" y2="0"><stop offset="0" stop-color="#0816f6"/><stop offset="0.3" stop-color="#0208e2"/><stop offset="0.5" stop-color="#0000cd"/><stop offset="0.7" stop-color="#0004d6"/><stop offset="1" stop-color="#020ce4"/></linearGradient>
<filter id="b80" filterUnits="userSpaceOnUse" x="191.25" y="726.4" width="102.9" height="223.4"><feGaussianBlur stdDeviation="0.5"/></filter>
<mask id="m79" maskUnits="userSpaceOnUse" x="191.25" y="726.4" width="102.9" height="223.4"><rect x="195.72" y="731.17" width="93.95" height="213.85" fill="rgb(189,189,189)"/><path d="M196.67 730.87V945.33M201.52 730.87V945.33M206.36 730.87V945.33M211.21 730.87V945.33M216.05 730.87V945.33M220.9 730.87V945.33M225.74 730.87V945.33M230.59 730.87V945.33M235.43 730.87V945.33M240.28 730.87V945.33M245.12 730.87V945.33M249.97 730.87V945.33M254.81 730.87V945.33M259.66 730.87V945.33M264.5 730.87V945.33M269.35 730.87V945.33M274.19 730.87V945.33M279.04 730.87V945.33M283.88 730.87V945.33M288.73 730.87V945.33" stroke="#fff" stroke-width="2.94" stroke-linecap="round" fill="none" filter="url(#b80)"/></mask>
<linearGradient id="g81" gradientUnits="userSpaceOnUse" x1="0" y1="834.09" x2="0" y2="842.51"><stop offset="0" stop-color="#be0000"/><stop offset="0.13" stop-color="#ee2400"/><stop offset="0.34" stop-color="#ff4d14"/><stop offset="0.5" stop-color="#ff4d14"/><stop offset="0.66" stop-color="#ff4d14"/><stop offset="0.87" stop-color="#ee2400"/><stop offset="1" stop-color="#be0000"/></linearGradient>
<linearGradient id="g82" gradientUnits="userSpaceOnUse" x1="0" y1="833.23" x2="0" y2="843.37"><stop offset="0" stop-color="#be0000"/><stop offset="0.11" stop-color="#ee2400"/><stop offset="0.29" stop-color="#ff5a13"/><stop offset="0.5" stop-color="#ff5a13"/><stop offset="0.71" stop-color="#ff5a13"/><stop offset="0.89" stop-color="#ee2400"/><stop offset="1" stop-color="#be0000"/></linearGradient>
<linearGradient id="g83" gradientUnits="userSpaceOnUse" x1="0" y1="832.31" x2="0" y2="844.29"><stop offset="0" stop-color="#be0000"/><stop offset="0.09" stop-color="#ee2400"/><stop offset="0.24" stop-color="#ff6712"/><stop offset="0.5" stop-color="#ff6712"/><stop offset="0.76" stop-color="#ff6712"/><stop offset="0.91" stop-color="#ee2400"/><stop offset="1" stop-color="#be0000"/></linearGradient>
<linearGradient id="g84" gradientUnits="userSpaceOnUse" x1="0" y1="831.31" x2="0" y2="845.29"><stop offset="0" stop-color="#be0000"/><stop offset="0.08" stop-color="#ee2400"/><stop offset="0.21" stop-color="#ff7412"/><stop offset="0.5" stop-color="#ff7412"/><stop offset="0.79" stop-color="#ff7412"/><stop offset="0.92" stop-color="#ee2400"/><stop offset="1" stop-color="#be0000"/></linearGradient>
<linearGradient id="g85" gradientUnits="userSpaceOnUse" x1="0" y1="830.23" x2="0" y2="846.37"><stop offset="0" stop-color="#be0000"/><stop offset="0.07" stop-color="#ee2400"/><stop offset="0.18" stop-color="#ff8111"/><stop offset="0.5" stop-color="#ff8111"/><stop offset="0.82" stop-color="#ff8111"/><stop offset="0.93" stop-color="#ee2400"/><stop offset="1" stop-color="#be0000"/></linearGradient>
<linearGradient id="g86" gradientUnits="userSpaceOnUse" x1="0" y1="829.07" x2="0" y2="847.53"><stop offset="0" stop-color="#be0000"/><stop offset="0.06" stop-color="#ee2400"/><stop offset="0.16" stop-color="#ff8e10"/><stop offset="0.5" stop-color="#ff8e10"/><stop offset="0.84" stop-color="#ff8e10"/><stop offset="0.94" stop-color="#ee2400"/><stop offset="1" stop-color="#be0000"/></linearGradient>
<linearGradient id="g87" gradientUnits="userSpaceOnUse" x1="0" y1="827.82" x2="0" y2="848.78"><stop offset="0" stop-color="#be0000"/><stop offset="0.05" stop-color="#ee2400"/><stop offset="0.14" stop-color="#ff9810"/><stop offset="0.5" stop-color="#ff9810"/><stop offset="0.86" stop-color="#ff9810"/><stop offset="0.95" stop-color="#ee2400"/><stop offset="1" stop-color="#be0000"/></linearGradient>
<linearGradient id="g88" gradientUnits="userSpaceOnUse" x1="0" y1="826.48" x2="0" y2="850.12"><stop offset="0" stop-color="#be0000"/><stop offset="0.05" stop-color="#ee2400"/><stop offset="0.12" stop-color="#ff9810"/><stop offset="0.5" stop-color="#ff9810"/><stop offset="0.88" stop-color="#ff9810"/><stop offset="0.95" stop-color="#ee2400"/><stop offset="1" stop-color="#be0000"/></linearGradient>
<linearGradient id="g89" gradientUnits="userSpaceOnUse" x1="0" y1="825.02" x2="0" y2="851.58"><stop offset="0" stop-color="#be0000"/><stop offset="0.04" stop-color="#ee2400"/><stop offset="0.11" stop-color="#ff9810"/><stop offset="0.5" stop-color="#ff9810"/><stop offset="0.89" stop-color="#ff9810"/><stop offset="0.96" stop-color="#ee2400"/><stop offset="1" stop-color="#be0000"/></linearGradient>
<linearGradient id="g90" gradientUnits="userSpaceOnUse" x1="0" y1="823.46" x2="0" y2="853.14"><stop offset="0" stop-color="#be0000"/><stop offset="0.04" stop-color="#ee2400"/><stop offset="0.1" stop-color="#ff9810"/><stop offset="0.5" stop-color="#ff9810"/><stop offset="0.9" stop-color="#ff9810"/><stop offset="0.96" stop-color="#ee2400"/><stop offset="1" stop-color="#be0000"/></linearGradient>
<linearGradient id="g91" gradientUnits="userSpaceOnUse" x1="0" y1="821.77" x2="0" y2="854.83"><stop offset="0" stop-color="#be0000"/><stop offset="0.03" stop-color="#ee2400"/><stop offset="0.09" stop-color="#ff9810"/><stop offset="0.5" stop-color="#ff9810"/><stop offset="0.91" stop-color="#ff9810"/><stop offset="0.97" stop-color="#ee2400"/><stop offset="1" stop-color="#be0000"/></linearGradient>
<linearGradient id="g92" gradientUnits="userSpaceOnUse" x1="0" y1="819.95" x2="0" y2="856.65"><stop offset="0" stop-color="#be0000"/><stop offset="0.03" stop-color="#ee2400"/><stop offset="0.08" stop-color="#ff9810"/><stop offset="0.5" stop-color="#ff9810"/><stop offset="0.92" stop-color="#ff9810"/><stop offset="0.97" stop-color="#ee2400"/><stop offset="1" stop-color="#be0000"/></linearGradient>
<linearGradient id="g93" gradientUnits="userSpaceOnUse" x1="0" y1="817.99" x2="0" y2="858.61"><stop offset="0" stop-color="#be0000"/><stop offset="0.03" stop-color="#ee2400"/><stop offset="0.07" stop-color="#ff9810"/><stop offset="0.5" stop-color="#ff9810"/><stop offset="0.93" stop-color="#ff9810"/><stop offset="0.97" stop-color="#ee2400"/><stop offset="1" stop-color="#be0000"/></linearGradient>
<linearGradient id="g94" gradientUnits="userSpaceOnUse" x1="0" y1="815.88" x2="0" y2="860.72"><stop offset="0" stop-color="#be0000"/><stop offset="0.02" stop-color="#ee2400"/><stop offset="0.06" stop-color="#ff9810"/><stop offset="0.5" stop-color="#ff9810"/><stop offset="0.94" stop-color="#ff9810"/><stop offset="0.98" stop-color="#ee2400"/><stop offset="1" stop-color="#be0000"/></linearGradient>
<linearGradient id="g95" gradientUnits="userSpaceOnUse" x1="0" y1="813.6" x2="0" y2="863"><stop offset="0" stop-color="#be0000"/><stop offset="0.02" stop-color="#ee2400"/><stop offset="0.06" stop-color="#ff9810"/><stop offset="0.5" stop-color="#ff9810"/><stop offset="0.94" stop-color="#ff9810"/><stop offset="0.98" stop-color="#ee2400"/><stop offset="1" stop-color="#be0000"/></linearGradient>
<linearGradient id="g96" gradientUnits="userSpaceOnUse" x1="0" y1="811.14" x2="0" y2="865.46"><stop offset="0" stop-color="#be0000"/><stop offset="0.02" stop-color="#ee2400"/><stop offset="0.05" stop-color="#ff9810"/><stop offset="0.5" stop-color="#ff9810"/><stop offset="0.95" stop-color="#ff9810"/><stop offset="0.98" stop-color="#ee2400"/><stop offset="1" stop-color="#be0000"/></linearGradient>
<linearGradient id="g97" gradientUnits="userSpaceOnUse" x1="0" y1="808.5" x2="0" y2="868.1"><stop offset="0" stop-color="#be0000"/><stop offset="0.02" stop-color="#ee2400"/><stop offset="0.05" stop-color="#ff9810"/><stop offset="0.5" stop-color="#ff9810"/><stop offset="0.95" stop-color="#ff9810"/><stop offset="0.98" stop-color="#ee2400"/><stop offset="1" stop-color="#be0000"/></linearGradient>
<linearGradient id="g98" gradientUnits="userSpaceOnUse" x1="0" y1="805.64" x2="0" y2="870.96"><stop offset="0" stop-color="#be0000"/><stop offset="0.02" stop-color="#ee2400"/><stop offset="0.04" stop-color="#ff9810"/><stop offset="0.5" stop-color="#ff9810"/><stop offset="0.96" stop-color="#ff9810"/><stop offset="0.98" stop-color="#ee2400"/><stop offset="1" stop-color="#be0000"/></linearGradient>
<linearGradient id="g99" gradientUnits="userSpaceOnUse" x1="0" y1="802.57" x2="0" y2="874.03"><stop offset="0" stop-color="#be0000"/><stop offset="0.02" stop-color="#ee2400"/><stop offset="0.04" stop-color="#ff9810"/><stop offset="0.5" stop-color="#ff9810"/><stop offset="0.96" stop-color="#ff9810"/><stop offset="0.98" stop-color="#ee2400"/><stop offset="1" stop-color="#be0000"/></linearGradient>
<linearGradient id="g100" gradientUnits="userSpaceOnUse" x1="0" y1="799.25" x2="0" y2="877.35"><stop offset="0" stop-color="#be0000"/><stop offset="0.01" stop-color="#ee2400"/><stop offset="0.04" stop-color="#ff9810"/><stop offset="0.5" stop-color="#ff9810"/><stop offset="0.96" stop-color="#ff9810"/><stop offset="0.99" stop-color="#ee2400"/><stop offset="1" stop-color="#be0000"/></linearGradient>
<clipPath id="c101"><rect x="292.2" y="731.2" width="95.3" height="213.4"/></clipPath>
<filter id="b103" filterUnits="userSpaceOnUse" x="542.55" y="726.4" width="103.2" height="223.4"><feGaussianBlur stdDeviation="0.5"/></filter>
<mask id="m102" maskUnits="userSpaceOnUse" x="542.55" y="726.4" width="103.2" height="223.4"><rect x="547.03" y="731.18" width="94.24" height="213.84" fill="rgb(189,189,189)"/><path d="M547.98 730.88V945.32M552.84 730.88V945.32M557.7 730.88V945.32M562.56 730.88V945.32M567.42 730.88V945.32M572.28 730.88V945.32M577.14 730.88V945.32M582 730.88V945.32M586.86 730.88V945.32M591.72 730.88V945.32M596.58 730.88V945.32M601.44 730.88V945.32M606.3 730.88V945.32M611.16 730.88V945.32M616.02 730.88V945.32M620.88 730.88V945.32M625.74 730.88V945.32M630.6 730.88V945.32M635.46 730.88V945.32M640.32 730.88V945.32" stroke="#fff" stroke-width="2.96" stroke-linecap="round" fill="none" filter="url(#b103)"/></mask>
<clipPath id="c104"><rect x="643.4" y="731.2" width="95.2" height="213.4"/></clipPath>
<linearGradient id="g105" gradientUnits="userSpaceOnUse" x1="643.6" y1="0" x2="735" y2="0"><stop offset="0" stop-color="#60ffa0"/><stop offset="0.03" stop-color="#96ff69"/><stop offset="0.07" stop-color="#deff22"/><stop offset="0.45" stop-color="#e4ff1c"/><stop offset="0.78" stop-color="#fffa00"/><stop offset="1" stop-color="#fff800"/></linearGradient>
<filter id="b107" filterUnits="userSpaceOnUse" x="907.35" y="722.8" width="104.8" height="227"><feGaussianBlur stdDeviation="0.5"/></filter>
<mask id="m106" maskUnits="userSpaceOnUse" x="907.35" y="722.8" width="104.8" height="227"><rect x="911.87" y="727.62" width="95.76" height="217.36" fill="rgb(189,189,189)"/><path d="M912.82 727.32V945.28M917.76 727.32V945.28M922.7 727.32V945.28M927.64 727.32V945.28M932.58 727.32V945.28M937.52 727.32V945.28M942.46 727.32V945.28M947.4 727.32V945.28M952.34 727.32V945.28M957.28 727.32V945.28M962.22 727.32V945.28M967.16 727.32V945.28M972.1 727.32V945.28M977.04 727.32V945.28M981.98 727.32V945.28M986.92 727.32V945.28M991.86 727.32V945.28M996.8 727.32V945.28M1001.74 727.32V945.28M1006.68 727.32V945.28" stroke="#fff" stroke-width="3.04" stroke-linecap="round" fill="none" filter="url(#b107)"/></mask>
<linearGradient id="g108" x1="0" y1="0" x2="1" y2="0"><stop offset="0" stop-color="#ffd600"/><stop offset="0.05" stop-color="#fff000"/><stop offset="0.3" stop-color="#ffff00"/><stop offset="0.5" stop-color="#e5ff1a"/><stop offset="0.65" stop-color="#c2ff3d"/><stop offset="0.78" stop-color="#8aff75"/><stop offset="0.87" stop-color="#42ffbd"/><stop offset="0.94" stop-color="#00f0ff"/><stop offset="1" stop-color="#0094ff"/></linearGradient>
<filter id="b110" filterUnits="userSpaceOnUse" x="1288.35" y="722.8" width="104.2" height="227"><feGaussianBlur stdDeviation="0.5"/></filter>
<mask id="m109" maskUnits="userSpaceOnUse" x="1288.35" y="722.8" width="104.2" height="227"><rect x="1292.86" y="727.6" width="95.19" height="217.39" fill="rgb(189,189,189)"/><path d="M1293.8 727.3V945.29M1298.71 727.3V945.29M1303.62 727.3V945.29M1308.53 727.3V945.29M1313.44 727.3V945.29M1318.36 727.3V945.29M1323.27 727.3V945.29M1328.17 727.3V945.29M1333.09 727.3V945.29M1338 727.3V945.29M1342.9 727.3V945.29M1347.82 727.3V945.29M1352.73 727.3V945.29M1357.63 727.3V945.29M1362.55 727.3V945.29M1367.46 727.3V945.29M1372.37 727.3V945.29M1377.28 727.3V945.29M1382.19 727.3V945.29M1387.1 727.3V945.29" stroke="#fff" stroke-width="3.01" stroke-linecap="round" fill="none" filter="url(#b110)"/></mask>
</defs>
<rect width="1600" height="1065" fill="#fff"/>
<g class="plots">
<rect x="165.5" y="55.6" width="249.2" height="277.8" fill="#fff" stroke="#adadad" stroke-width="1.1"/>
<path d="M188.3 55.6v3.2M188.3 333.4v-3.2M302.9 55.6v3.2M302.9 333.4v-3.2M165.5 81.3h3.2M414.7 81.3h-3.2M165.5 109.7h3.2M414.7 109.7h-3.2M165.5 138.1h3.2M414.7 138.1h-3.2M165.5 166.5h3.2M414.7 166.5h-3.2M165.5 194.9h3.2M414.7 194.9h-3.2M165.5 223.3h3.2M414.7 223.3h-3.2M165.5 251.7h3.2M414.7 251.7h-3.2M165.5 280.1h3.2M414.7 280.1h-3.2M165.5 308.5h3.2M414.7 308.5h-3.2" stroke="#adadad" stroke-width="1" fill="none" opacity="0.45"/>
<text x="189.2" y="348.2" font-size="12.6" text-anchor="middle" fill="#262626">30</text>
<text x="303.8" y="348.2" font-size="12.6" text-anchor="middle" fill="#262626">32</text>
<text x="164.5" y="85.15" font-size="12.2" text-anchor="end" fill="#262626">2</text>
<text x="164.5" y="113.55" font-size="12.2" text-anchor="end" fill="#262626">1.5</text>
<text x="164.5" y="141.95" font-size="12.2" text-anchor="end" fill="#262626">1</text>
<text x="164.5" y="170.35" font-size="12.2" text-anchor="end" fill="#262626">0.5</text>
<text x="164.5" y="198.75" font-size="12.2" text-anchor="end" fill="#262626">0</text>
<text x="164.5" y="227.15" font-size="12.2" text-anchor="end" fill="#262626">-0.5</text>
<text x="164.5" y="255.55" font-size="12.2" text-anchor="end" fill="#262626">-1</text>
<text x="164.5" y="283.95" font-size="12.2" text-anchor="end" fill="#262626">-1.5</text>
<text x="164.5" y="312.35" font-size="12.2" text-anchor="end" fill="#262626">-2</text>
<text x="132.5" y="62.29" font-size="11.2" text-anchor="middle" fill="#262626">mm</text>
<text x="404.8" y="348.39" font-size="11.2" text-anchor="middle" fill="#262626">mm</text>
<g mask="url(#m6)"><rect x="188.3" y="78.6" width="204" height="232.2" fill="#c40000"/><rect x="188" y="190.27" width="5.7" height="8.46" fill="url(#g8)"/><rect x="193.1" y="189.36" width="5.7" height="10.28" fill="url(#g9)"/><rect x="198.2" y="188.38" width="5.7" height="12.24" fill="url(#g10)"/><rect x="203.3" y="187.32" width="5.7" height="14.36" fill="url(#g11)"/><rect x="208.4" y="186.18" width="5.7" height="16.64" fill="url(#g12)"/><rect x="213.5" y="184.95" width="5.7" height="19.1" fill="url(#g13)"/><rect x="218.6" y="183.63" width="5.7" height="21.75" fill="url(#g14)"/><rect x="223.7" y="182.2" width="5.7" height="24.6" fill="url(#g15)"/><rect x="228.8" y="180.66" width="5.7" height="27.68" fill="url(#g16)"/><rect x="233.9" y="179" width="5.7" height="31" fill="url(#g17)"/><rect x="239" y="177.21" width="5.7" height="34.57" fill="url(#g18)"/><rect x="244.1" y="175.29" width="5.7" height="38.43" fill="url(#g19)"/><rect x="249.2" y="173.21" width="5.7" height="42.58" fill="url(#g20)"/><rect x="254.3" y="170.97" width="5.7" height="47.06" fill="url(#g21)"/><rect x="259.4" y="168.56" width="5.7" height="51.89" fill="url(#g22)"/><rect x="264.5" y="165.95" width="5.7" height="57.09" fill="url(#g23)"/><rect x="269.6" y="163.15" width="5.7" height="62.7" fill="url(#g24)"/><rect x="274.7" y="160.13" width="5.7" height="68.75" fill="url(#g25)"/><rect x="279.8" y="156.87" width="5.7" height="75.26" fill="url(#g26)"/><rect x="284.9" y="153.36" width="5.7" height="82.29" fill="url(#g27)"/><rect x="290" y="119.7" width="5.7" height="150.4" fill="url(#g28)"/><rect x="295.1" y="108.5" width="5.7" height="172.8" fill="url(#g29)"/><rect x="300.2" y="103.9" width="5.7" height="182" fill="url(#g30)"/><rect x="305.3" y="100.9" width="5.7" height="188" fill="url(#g31)"/><rect x="310.4" y="99.3" width="5.7" height="191.2" fill="url(#g32)"/><rect x="315.5" y="97.9" width="5.7" height="194" fill="url(#g33)"/><rect x="320.6" y="96.9" width="5.7" height="196" fill="url(#g34)"/><rect x="325.7" y="96.3" width="5.7" height="197.2" fill="url(#g35)"/><rect x="330.8" y="96.3" width="5.7" height="197.2" fill="url(#g36)"/><rect x="335.9" y="96.3" width="5.7" height="197.2" fill="url(#g37)"/><rect x="341" y="96.3" width="5.7" height="197.2" fill="url(#g38)"/><rect x="346.1" y="96.3" width="5.7" height="197.2" fill="url(#g39)"/><rect x="351.2" y="96.3" width="5.7" height="197.2" fill="url(#g40)"/><rect x="356.3" y="96.3" width="5.7" height="197.2" fill="url(#g41)"/><rect x="361.4" y="96.3" width="5.7" height="197.2" fill="url(#g42)"/><rect x="366.5" y="96.3" width="5.7" height="197.2" fill="url(#g43)"/><rect x="371.6" y="96.3" width="5.7" height="197.2" fill="url(#g44)"/><rect x="376.7" y="96.3" width="5.7" height="197.2" fill="url(#g45)"/><rect x="381.8" y="96.3" width="5.7" height="197.2" fill="url(#g46)"/><rect x="386.9" y="101.8" width="5.7" height="186.2" fill="url(#g47)"/></g>
<rect x="423.1" y="98" width="6.6" height="213" fill="url(#jetg)"/>
<text x="432.9" y="102.45" font-size="12.2" text-anchor="start" fill="#262626">1</text>
<text x="432.9" y="123.75" font-size="12.2" text-anchor="start" fill="#262626">0.8</text>
<text x="432.9" y="145.05" font-size="12.2" text-anchor="start" fill="#262626">0.6</text>
<text x="432.9" y="166.35" font-size="12.2" text-anchor="start" fill="#262626">0.4</text>
<text x="432.9" y="187.65" font-size="12.2" text-anchor="start" fill="#262626">0.2</text>
<text x="432.9" y="208.95" font-size="12.2" text-anchor="start" fill="#262626">0</text>
<text x="432.9" y="230.25" font-size="12.2" text-anchor="start" fill="#262626">-0.2</text>
<text x="432.9" y="251.55" font-size="12.2" text-anchor="start" fill="#262626">-0.4</text>
<text x="432.9" y="272.85" font-size="12.2" text-anchor="start" fill="#262626">-0.6</text>
<text x="432.9" y="294.15" font-size="12.2" text-anchor="start" fill="#262626">-0.8</text>
<text x="432.9" y="315.45" font-size="12.2" text-anchor="start" fill="#262626">-1</text>
<path d="M418.3 74.1L424.8 62.4L431.3 74.1Z" fill="#000"/>
<text x="436.7" y="73.65" font-size="12.2" text-anchor="start" fill="#262626">0.93</text>
<path d="M418.3 321.8L424.8 333.4L431.3 321.8Z" fill="#000"/>
<text x="436.7" y="331.45" font-size="12.2" text-anchor="start" fill="#262626">-0.19</text>
<rect x="516.4" y="55.6" width="249.4" height="277.8" fill="#fff" stroke="#adadad" stroke-width="1.1"/>
<path d="M539.8 55.6v3.2M539.8 333.4v-3.2M654.4 55.6v3.2M654.4 333.4v-3.2M516.4 81.3h3.2M765.8 81.3h-3.2M516.4 109.7h3.2M765.8 109.7h-3.2M516.4 138.1h3.2M765.8 138.1h-3.2M516.4 166.5h3.2M765.8 166.5h-3.2M516.4 194.9h3.2M765.8 194.9h-3.2M516.4 223.3h3.2M765.8 223.3h-3.2M516.4 251.7h3.2M765.8 251.7h-3.2M516.4 280.1h3.2M765.8 280.1h-3.2M516.4 308.5h3.2M765.8 308.5h-3.2" stroke="#adadad" stroke-width="1" fill="none" opacity="0.45"/>
<text x="540.7" y="348.2" font-size="12.6" text-anchor="middle" fill="#262626">30</text>
<text x="655.3" y="348.2" font-size="12.6" text-anchor="middle" fill="#262626">32</text>
<text x="515.4" y="85.15" font-size="12.2" text-anchor="end" fill="#262626">2</text>
<text x="515.4" y="113.55" font-size="12.2" text-anchor="end" fill="#262626">1.5</text>
<text x="515.4" y="141.95" font-size="12.2" text-anchor="end" fill="#262626">1</text>
<text x="515.4" y="170.35" font-size="12.2" text-anchor="end" fill="#262626">0.5</text>
<text x="515.4" y="198.75" font-size="12.2" text-anchor="end" fill="#262626">0</text>
<text x="515.4" y="227.15" font-size="12.2" text-anchor="end" fill="#262626">-0.5</text>
<text x="515.4" y="255.55" font-size="12.2" text-anchor="end" fill="#262626">-1</text>
<text x="515.4" y="283.95" font-size="12.2" text-anchor="end" fill="#262626">-1.5</text>
<text x="515.4" y="312.35" font-size="12.2" text-anchor="end" fill="#262626">-2</text>
<text x="483.4" y="62.29" font-size="11.2" text-anchor="middle" fill="#262626">mm</text>
<text x="755.9" y="348.39" font-size="11.2" text-anchor="middle" fill="#262626">mm</text>
<g mask="url(#m48)"><rect x="539.8" y="78.6" width="101.85" height="232.2" fill="#800000"/><rect x="641.25" y="78.6" width="101.85" height="232.2" fill="#f00000"/><rect x="641.15" y="163.2" width="5.68" height="63.4" fill="url(#g50)"/><rect x="646.23" y="155.2" width="5.68" height="79.4" fill="url(#g51)"/><rect x="651.31" y="151.4" width="5.68" height="87" fill="url(#g52)"/><rect x="656.4" y="148.1" width="5.68" height="93.6" fill="url(#g53)"/><rect x="661.48" y="146.6" width="5.68" height="96.6" fill="url(#g54)"/><rect x="666.56" y="145.2" width="5.68" height="99.4" fill="url(#g55)"/><rect x="671.64" y="144.3" width="5.68" height="101.2" fill="url(#g56)"/><rect x="676.73" y="143.8" width="5.68" height="102.2" fill="url(#g57)"/><rect x="681.81" y="143.4" width="5.68" height="103" fill="url(#g58)"/><rect x="686.89" y="143.4" width="5.68" height="103" fill="url(#g59)"/><rect x="691.97" y="143.4" width="5.68" height="103" fill="url(#g60)"/><rect x="697.06" y="143.4" width="5.68" height="103" fill="url(#g61)"/><rect x="702.14" y="143.4" width="5.68" height="103" fill="url(#g62)"/><rect x="707.22" y="143.4" width="5.68" height="103" fill="url(#g63)"/><rect x="712.3" y="143.4" width="5.68" height="103" fill="url(#g64)"/><rect x="717.39" y="143.4" width="5.68" height="103" fill="url(#g65)"/><rect x="722.47" y="143.4" width="5.68" height="103" fill="url(#g66)"/><rect x="727.55" y="144.8" width="5.68" height="100.2" fill="url(#g67)"/><rect x="732.63" y="147.1" width="5.68" height="95.6" fill="url(#g68)"/><rect x="737.72" y="155.8" width="5.68" height="78.2" fill="url(#g69)"/></g>
<rect x="774.2" y="98" width="6.6" height="213" fill="url(#jetg)"/>
<text x="784" y="102.45" font-size="12.2" text-anchor="start" fill="#262626">1</text>
<text x="784" y="123.75" font-size="12.2" text-anchor="start" fill="#262626">0.8</text>
<text x="784" y="145.05" font-size="12.2" text-anchor="start" fill="#262626">0.6</text>
<text x="784" y="166.35" font-size="12.2" text-anchor="start" fill="#262626">0.4</text>
<text x="784" y="187.65" font-size="12.2" text-anchor="start" fill="#262626">0.2</text>
<text x="784" y="208.95" font-size="12.2" text-anchor="start" fill="#262626">0</text>
<text x="784" y="230.25" font-size="12.2" text-anchor="start" fill="#262626">-0.2</text>
<text x="784" y="251.55" font-size="12.2" text-anchor="start" fill="#262626">-0.4</text>
<text x="784" y="272.85" font-size="12.2" text-anchor="start" fill="#262626">-0.6</text>
<text x="784" y="294.15" font-size="12.2" text-anchor="start" fill="#262626">-0.8</text>
<text x="784" y="315.45" font-size="12.2" text-anchor="start" fill="#262626">-1</text>
<path d="M769.4 74.1L775.9 62.4L782.4 74.1Z" fill="#000"/>
<text x="787.8" y="73.65" font-size="12.2" text-anchor="start" fill="#262626">1.06</text>
<path d="M769.4 321.8L775.9 333.4L782.4 321.8Z" fill="#000"/>
<text x="787.8" y="331.45" font-size="12.2" text-anchor="start" fill="#262626">-0.11</text>
<rect x="885.6" y="55.6" width="248.7" height="277.8" fill="#fff" stroke="#adadad" stroke-width="1.1"/>
<path d="M908 55.6v3.2M908 333.4v-3.2M1022.6 55.6v3.2M1022.6 333.4v-3.2M885.6 81.3h3.2M1134.3 81.3h-3.2M885.6 109.7h3.2M1134.3 109.7h-3.2M885.6 138.1h3.2M1134.3 138.1h-3.2M885.6 166.5h3.2M1134.3 166.5h-3.2M885.6 194.9h3.2M1134.3 194.9h-3.2M885.6 223.3h3.2M1134.3 223.3h-3.2M885.6 251.7h3.2M1134.3 251.7h-3.2M885.6 280.1h3.2M1134.3 280.1h-3.2M885.6 308.5h3.2M1134.3 308.5h-3.2" stroke="#adadad" stroke-width="1" fill="none" opacity="0.45"/>
<text x="908.9" y="348.2" font-size="12.6" text-anchor="middle" fill="#262626">30</text>
<text x="1023.5" y="348.2" font-size="12.6" text-anchor="middle" fill="#262626">32</text>
<text x="884.6" y="85.15" font-size="12.2" text-anchor="end" fill="#262626">2</text>
<text x="884.6" y="113.55" font-size="12.2" text-anchor="end" fill="#262626">1.5</text>
<text x="884.6" y="141.95" font-size="12.2" text-anchor="end" fill="#262626">1</text>
<text x="884.6" y="170.35" font-size="12.2" text-anchor="end" fill="#262626">0.5</text>
<text x="884.6" y="198.75" font-size="12.2" text-anchor="end" fill="#262626">0</text>
<text x="884.6" y="227.15" font-size="12.2" text-anchor="end" fill="#262626">-0.5</text>
<text x="884.6" y="255.55" font-size="12.2" text-anchor="end" fill="#262626">-1</text>
<text x="884.6" y="283.95" font-size="12.2" text-anchor="end" fill="#262626">-1.5</text>
<text x="884.6" y="312.35" font-size="12.2" text-anchor="end" fill="#262626">-2</text>
<text x="852.6" y="62.29" font-size="11.2" text-anchor="middle" fill="#262626">mm</text>
<text x="1124.4" y="348.39" font-size="11.2" text-anchor="middle" fill="#262626">mm</text>
<g mask="url(#m70)"><rect x="907.7" y="78.3" width="5.71" height="232.5" fill="#00009e"/><rect x="912.82" y="78.3" width="5.71" height="232.5" fill="#002eff"/><rect x="917.93" y="78.3" width="5.71" height="232.5" fill="#00d1ff"/><rect x="923.05" y="78.3" width="5.71" height="232.5" fill="#4dffb2"/><rect x="928.16" y="78.3" width="5.71" height="232.5" fill="#c7ff38"/><rect x="933.28" y="78.3" width="5.71" height="232.5" fill="#ffc700"/><rect x="938.39" y="78.3" width="5.71" height="232.5" fill="#ff7500"/><rect x="943.5" y="78.3" width="5.71" height="232.5" fill="#ff3800"/><rect x="948.62" y="78.3" width="5.71" height="232.5" fill="#ff0500"/><rect x="953.74" y="78.3" width="5.71" height="232.5" fill="#e50000"/><rect x="958.85" y="78.3" width="5.71" height="232.5" fill="#c70000"/><rect x="963.97" y="78.3" width="5.71" height="232.5" fill="#ad0000"/><rect x="969.08" y="78.3" width="5.71" height="232.5" fill="#990000"/><rect x="974.2" y="78.3" width="5.71" height="232.5" fill="#8a0000"/><rect x="979.31" y="78.3" width="5.71" height="232.5" fill="#8f0000"/><rect x="984.42" y="78.3" width="5.71" height="232.5" fill="#a80000"/><rect x="989.54" y="78.3" width="5.71" height="232.5" fill="#cc0000"/><rect x="994.65" y="78.3" width="5.71" height="232.5" fill="#fa0000"/><rect x="999.77" y="78.3" width="5.71" height="232.5" fill="#ff4200"/><rect x="1004.88" y="78.3" width="5.71" height="232.5" fill="#ff9400"/><rect x="1010" y="78.3" width="5.71" height="232.5" fill="#ffd100"/><rect x="1015.12" y="78.3" width="5.71" height="232.5" fill="#ffeb00"/><rect x="1020.23" y="78.3" width="5.71" height="232.5" fill="#fff500"/><rect x="1025.35" y="78.3" width="5.71" height="232.5" fill="#fffa00"/><rect x="1030.46" y="78.3" width="5.71" height="232.5" fill="#fffa00"/><rect x="1035.58" y="78.3" width="5.71" height="232.5" fill="#ffff00"/><rect x="1040.69" y="78.3" width="5.71" height="232.5" fill="#faff05"/><rect x="1045.81" y="78.3" width="5.71" height="232.5" fill="#f5ff0a"/><rect x="1050.92" y="78.3" width="5.71" height="232.5" fill="#ebff14"/><rect x="1056.04" y="78.3" width="5.71" height="232.5" fill="#e0ff1f"/><rect x="1061.15" y="78.3" width="5.71" height="232.5" fill="#d1ff2e"/><rect x="1066.26" y="78.3" width="5.71" height="232.5" fill="#c2ff3d"/><rect x="1071.38" y="78.3" width="5.71" height="232.5" fill="#b3ff4c"/><rect x="1076.49" y="78.3" width="5.71" height="232.5" fill="#a3ff5c"/><rect x="1081.61" y="78.3" width="5.71" height="232.5" fill="#8fff70"/><rect x="1086.72" y="78.3" width="5.71" height="232.5" fill="#75ff8a"/><rect x="1091.84" y="78.3" width="5.71" height="232.5" fill="#4dffb2"/><rect x="1096.95" y="78.3" width="5.71" height="232.5" fill="#1affe5"/><rect x="1102.07" y="78.3" width="5.71" height="232.5" fill="#00dbff"/><rect x="1107.18" y="78.3" width="5.71" height="232.5" fill="#009eff"/></g>
<rect x="1142.7" y="98" width="6.6" height="213" fill="url(#jetg)"/>
<text x="1152.5" y="115.85" font-size="12.2" text-anchor="start" fill="#262626">2.6</text>
<text x="1152.5" y="149.25" font-size="12.2" text-anchor="start" fill="#262626">2.55</text>
<text x="1152.5" y="182.65" font-size="12.2" text-anchor="start" fill="#262626">2.5</text>
<text x="1152.5" y="216.05" font-size="12.2" text-anchor="start" fill="#262626">2.45</text>
<text x="1152.5" y="249.45" font-size="12.2" text-anchor="start" fill="#262626">2.4</text>
<text x="1152.5" y="282.85" font-size="12.2" text-anchor="start" fill="#262626">2.35</text>
<path d="M1137.9 74.1L1144.4 62.4L1150.9 74.1Z" fill="#000"/>
<text x="1156.3" y="73.65" font-size="12.2" fill="#262626">2.62×10<tspan font-size="8.2" dy="-5.2">8</tspan></text>
<text x="1148.1" y="90.05" font-size="12.2" fill="#262626">×10<tspan font-size="8.2" dy="-5.2">8</tspan></text>
<path d="M1137.9 321.8L1144.4 333.4L1150.9 321.8Z" fill="#000"/>
<text x="1156.3" y="331.45" font-size="12.2" fill="#262626">2.3×10<tspan font-size="8.2" dy="-5.2">8</tspan></text>
<rect x="1266" y="55.6" width="249.3" height="277.8" fill="#fff" stroke="#adadad" stroke-width="1.1"/>
<path d="M1288.6 55.6v3.2M1288.6 333.4v-3.2M1403.2 55.6v3.2M1403.2 333.4v-3.2M1266 81.3h3.2M1515.3 81.3h-3.2M1266 109.7h3.2M1515.3 109.7h-3.2M1266 138.1h3.2M1515.3 138.1h-3.2M1266 166.5h3.2M1515.3 166.5h-3.2M1266 194.9h3.2M1515.3 194.9h-3.2M1266 223.3h3.2M1515.3 223.3h-3.2M1266 251.7h3.2M1515.3 251.7h-3.2M1266 280.1h3.2M1515.3 280.1h-3.2M1266 308.5h3.2M1515.3 308.5h-3.2" stroke="#adadad" stroke-width="1" fill="none" opacity="0.45"/>
<text x="1289.5" y="348.2" font-size="12.6" text-anchor="middle" fill="#262626">30</text>
<text x="1404.1" y="348.2" font-size="12.6" text-anchor="middle" fill="#262626">32</text>
<text x="1265" y="85.15" font-size="12.2" text-anchor="end" fill="#262626">2</text>
<text x="1265" y="113.55" font-size="12.2" text-anchor="end" fill="#262626">1.5</text>
<text x="1265" y="141.95" font-size="12.2" text-anchor="end" fill="#262626">1</text>
<text x="1265" y="170.35" font-size="12.2" text-anchor="end" fill="#262626">0.5</text>
<text x="1265" y="198.75" font-size="12.2" text-anchor="end" fill="#262626">0</text>
<text x="1265" y="227.15" font-size="12.2" text-anchor="end" fill="#262626">-0.5</text>
<text x="1265" y="255.55" font-size="12.2" text-anchor="end" fill="#262626">-1</text>
<text x="1265" y="283.95" font-size="12.2" text-anchor="end" fill="#262626">-1.5</text>
<text x="1265" y="312.35" font-size="12.2" text-anchor="end" fill="#262626">-2</text>
<text x="1233" y="62.29" font-size="11.2" text-anchor="middle" fill="#262626">mm</text>
<text x="1505.4" y="348.39" font-size="11.2" text-anchor="middle" fill="#262626">mm</text>
<g mask="url(#m72)"><rect x="1288.6" y="78.3" width="102.4" height="232.5" fill="#8c0000"/><rect x="1385.88" y="78.3" width="5.12" height="232.5" fill="#b20e0e"/><rect x="1391" y="78.3" width="102.4" height="232.5" fill="#000086"/></g>
<rect x="1523.7" y="98" width="6.6" height="213" fill="url(#jetg)"/>
<text x="1533.5" y="102.85" font-size="12.2" text-anchor="start" fill="#262626">4.5</text>
<text x="1533.5" y="126.45" font-size="12.2" text-anchor="start" fill="#262626">4</text>
<text x="1533.5" y="150.05" font-size="12.2" text-anchor="start" fill="#262626">3.5</text>
<text x="1533.5" y="173.65" font-size="12.2" text-anchor="start" fill="#262626">3</text>
<text x="1533.5" y="197.25" font-size="12.2" text-anchor="start" fill="#262626">2.5</text>
<text x="1533.5" y="220.85" font-size="12.2" text-anchor="start" fill="#262626">2</text>
<text x="1533.5" y="244.45" font-size="12.2" text-anchor="start" fill="#262626">1.5</text>
<text x="1533.5" y="268.05" font-size="12.2" text-anchor="start" fill="#262626">1</text>
<text x="1533.5" y="291.65" font-size="12.2" text-anchor="start" fill="#262626">0.5</text>
<path d="M1518.9 74.1L1525.4 62.4L1531.9 74.1Z" fill="#000"/>
<text x="1537.3" y="73.65" font-size="12.2" fill="#262626">4.51×10<tspan font-size="8.2" dy="-5.2">9</tspan></text>
<text x="1529.1" y="90.05" font-size="12.2" fill="#262626">×10<tspan font-size="8.2" dy="-5.2">9</tspan></text>
<path d="M1518.9 321.8L1525.4 333.4L1531.9 321.8Z" fill="#000"/>
<text x="1537.3" y="331.45" font-size="12.2" fill="#262626">2.75×10<tspan font-size="8.2" dy="-5.2">5</tspan></text>
<rect x="165.5" y="376.5" width="249.2" height="277.3" fill="#fff" stroke="#adadad" stroke-width="1.1"/>
<path d="M188.1 376.5v3.2M188.1 653.8v-3.2M302.7 376.5v3.2M302.7 653.8v-3.2M165.5 402.4h3.2M414.7 402.4h-3.2M165.5 430.75h3.2M414.7 430.75h-3.2M165.5 459.1h3.2M414.7 459.1h-3.2M165.5 487.45h3.2M414.7 487.45h-3.2M165.5 515.8h3.2M414.7 515.8h-3.2M165.5 544.15h3.2M414.7 544.15h-3.2M165.5 572.5h3.2M414.7 572.5h-3.2M165.5 600.85h3.2M414.7 600.85h-3.2M165.5 629.2h3.2M414.7 629.2h-3.2" stroke="#adadad" stroke-width="1" fill="none" opacity="0.45"/>
<text x="189" y="668.6" font-size="12.6" text-anchor="middle" fill="#262626">30</text>
<text x="303.6" y="668.6" font-size="12.6" text-anchor="middle" fill="#262626">32</text>
<text x="164.5" y="406.25" font-size="12.2" text-anchor="end" fill="#262626">2</text>
<text x="164.5" y="434.6" font-size="12.2" text-anchor="end" fill="#262626">1.5</text>
<text x="164.5" y="462.95" font-size="12.2" text-anchor="end" fill="#262626">1</text>
<text x="164.5" y="491.3" font-size="12.2" text-anchor="end" fill="#262626">0.5</text>
<text x="164.5" y="519.65" font-size="12.2" text-anchor="end" fill="#262626">0</text>
<text x="164.5" y="548" font-size="12.2" text-anchor="end" fill="#262626">-0.5</text>
<text x="164.5" y="576.35" font-size="12.2" text-anchor="end" fill="#262626">-1</text>
<text x="164.5" y="604.7" font-size="12.2" text-anchor="end" fill="#262626">-1.5</text>
<text x="164.5" y="633.05" font-size="12.2" text-anchor="end" fill="#262626">-2</text>
<text x="132.5" y="383.19" font-size="11.2" text-anchor="middle" fill="#262626">mm</text>
<text x="404.8" y="668.79" font-size="11.2" text-anchor="middle" fill="#262626">mm</text>
<rect x="188.1" y="402" width="204" height="226.5" fill="url(#g75)"/>
<path d="M290.3 402V628.5" stroke="#ff6a48" stroke-width="0.9" opacity="0.8"/>
<circle cx="284.1" cy="516.1" r="3.2" fill="#ff5a20" filter="url(#b3)"/>
<g clip-path="url(#c74)"><path d="M291.1 477.6C291.1 439.52 302.8 421.6 336.1 421.6L380.3 421.6C382.5 421.6 384.3 423.85 384.3 426.6L384.3 426.6Q384.3 428.6 386.3 428.6L396.1 428.6L396.1 603.8L386.3 603.8Q384.3 603.8 384.3 605.8L384.3 605.8C384.3 608.55 382.5 610.8 380.3 610.8L336.1 610.8C302.8 610.8 291.1 592.88 291.1 554.8Z" fill="#ff6e00" stroke="#ff6e00" stroke-width="3.6" stroke-linejoin="round" filter="url(#b2)"/><path d="M291.1 477.6C291.1 439.52 302.8 421.6 336.1 421.6L380.3 421.6C382.5 421.6 384.3 423.85 384.3 426.6L384.3 426.6Q384.3 428.6 386.3 428.6L396.1 428.6L396.1 603.8L386.3 603.8Q384.3 603.8 384.3 605.8L384.3 605.8C384.3 608.55 382.5 610.8 380.3 610.8L336.1 610.8C302.8 610.8 291.1 592.88 291.1 554.8Z" fill="#ffee00" stroke="#ffee00" stroke-width="1.4" stroke-linejoin="round" filter="url(#b1)"/><path d="M291.9 478.6C291.9 440.52 303.6 422.6 336.9 422.6L380 422.6C382.2 422.6 384 424.85 384 427.6L384 434.6Q384 436.6 386 436.6L396.1 436.6L396.1 595.8L386 595.8Q384 595.8 384 597.8L384 604.8C384 607.55 382.2 609.8 380 609.8L336.9 609.8C303.6 609.8 291.9 591.88 291.9 553.8Z" fill="#c8ff3c" filter="url(#b2)"/><path d="M292.7 479.6C292.7 441.52 304.4 423.6 337.7 423.6L379.7 423.6C381.9 423.6 383.7 425.85 383.7 428.6L383.7 442.6Q383.7 444.6 385.7 444.6L396.1 444.6L396.1 587.8L385.7 587.8Q383.7 587.8 383.7 589.8L383.7 603.8C383.7 606.55 381.9 608.8 379.7 608.8L337.7 608.8C304.4 608.8 292.7 590.88 292.7 552.8Z" fill="#54ffac" filter="url(#b2)"/><path d="M298.2 479.8C298.2 442.67 308.44 425.2 337.6 425.2L377.7 425.2C385.96 425.2 389.5 433.3 389.5 452.2L389.5 580.2C389.5 599.1 385.96 607.2 377.7 607.2L337.6 607.2C308.44 607.2 298.2 589.73 298.2 552.6Z" fill="#9eff62" filter="url(#b5)"/><rect x="291" y="480.2" width="1.4" height="72" rx="0.7" fill="#0a6cff" opacity="0.85" filter="url(#b1)"/></g>
<rect x="423.1" y="418.9" width="6.6" height="213" fill="url(#jetg)"/>
<text x="432.9" y="423.35" font-size="12.2" text-anchor="start" fill="#262626">1</text>
<text x="432.9" y="444.65" font-size="12.2" text-anchor="start" fill="#262626">0.8</text>
<text x="432.9" y="465.95" font-size="12.2" text-anchor="start" fill="#262626">0.6</text>
<text x="432.9" y="487.25" font-size="12.2" text-anchor="start" fill="#262626">0.4</text>
<text x="432.9" y="508.55" font-size="12.2" text-anchor="start" fill="#262626">0.2</text>
<text x="432.9" y="529.85" font-size="12.2" text-anchor="start" fill="#262626">0</text>
<text x="432.9" y="551.15" font-size="12.2" text-anchor="start" fill="#262626">-0.2</text>
<text x="432.9" y="572.45" font-size="12.2" text-anchor="start" fill="#262626">-0.4</text>
<text x="432.9" y="593.75" font-size="12.2" text-anchor="start" fill="#262626">-0.6</text>
<text x="432.9" y="615.05" font-size="12.2" text-anchor="start" fill="#262626">-0.8</text>
<text x="432.9" y="636.35" font-size="12.2" text-anchor="start" fill="#262626">-1</text>
<path d="M418.3 395L424.8 383.3L431.3 395Z" fill="#000"/>
<text x="436.7" y="394.55" font-size="12.2" text-anchor="start" fill="#262626">0.91</text>
<path d="M418.3 642.2L424.8 653.8L431.3 642.2Z" fill="#000"/>
<text x="436.7" y="651.85" font-size="12.2" text-anchor="start" fill="#262626">-0.83</text>
<rect x="516.4" y="376.5" width="249.4" height="277.3" fill="#fff" stroke="#adadad" stroke-width="1.1"/>
<path d="M539.4 376.5v3.2M539.4 653.8v-3.2M654 376.5v3.2M654 653.8v-3.2M516.4 402.4h3.2M765.8 402.4h-3.2M516.4 430.75h3.2M765.8 430.75h-3.2M516.4 459.1h3.2M765.8 459.1h-3.2M516.4 487.45h3.2M765.8 487.45h-3.2M516.4 515.8h3.2M765.8 515.8h-3.2M516.4 544.15h3.2M765.8 544.15h-3.2M516.4 572.5h3.2M765.8 572.5h-3.2M516.4 600.85h3.2M765.8 600.85h-3.2M516.4 629.2h3.2M765.8 629.2h-3.2" stroke="#adadad" stroke-width="1" fill="none" opacity="0.45"/>
<text x="540.3" y="668.6" font-size="12.6" text-anchor="middle" fill="#262626">30</text>
<text x="654.9" y="668.6" font-size="12.6" text-anchor="middle" fill="#262626">32</text>
<text x="515.4" y="406.25" font-size="12.2" text-anchor="end" fill="#262626">2</text>
<text x="515.4" y="434.6" font-size="12.2" text-anchor="end" fill="#262626">1.5</text>
<text x="515.4" y="462.95" font-size="12.2" text-anchor="end" fill="#262626">1</text>
<text x="515.4" y="491.3" font-size="12.2" text-anchor="end" fill="#262626">0.5</text>
<text x="515.4" y="519.65" font-size="12.2" text-anchor="end" fill="#262626">0</text>
<text x="515.4" y="548" font-size="12.2" text-anchor="end" fill="#262626">-0.5</text>
<text x="515.4" y="576.35" font-size="12.2" text-anchor="end" fill="#262626">-1</text>
<text x="515.4" y="604.7" font-size="12.2" text-anchor="end" fill="#262626">-1.5</text>
<text x="515.4" y="633.05" font-size="12.2" text-anchor="end" fill="#262626">-2</text>
<text x="483.4" y="383.19" font-size="11.2" text-anchor="middle" fill="#262626">mm</text>
<text x="755.9" y="668.79" font-size="11.2" text-anchor="middle" fill="#262626">mm</text>
<rect x="539.4" y="402" width="101.4" height="226.5" fill="#ac0000"/>
<rect x="640.6" y="402" width="102.8" height="226.5" fill="#ff2800"/>
<g clip-path="url(#c76)"><path d="M641.2 505.2C641.2 491.95 651.45 480.2 682.2 480.2L726.6 480.2C732 480.2 735.6 482.6 735.6 486.2L735.6 485.2Q735.6 488.2 738.6 488.2L747.4 488.2L747.4 543.9L738.6 543.9Q735.6 543.9 735.6 546.9L735.6 545.9C735.6 549.5 732 551.9 726.6 551.9L682.2 551.9C651.45 551.9 641.2 540.15 641.2 526.9Z" fill="#ff8200" stroke="#ff8200" stroke-width="4.0" stroke-linejoin="round" filter="url(#b2)"/><path d="M641.2 505.2C641.2 491.95 651.45 480.2 682.2 480.2L726.6 480.2C732 480.2 735.6 482.6 735.6 486.2L735.6 485.2Q735.6 488.2 738.6 488.2L747.4 488.2L747.4 543.9L738.6 543.9Q735.6 543.9 735.6 546.9L735.6 545.9C735.6 549.5 732 551.9 726.6 551.9L682.2 551.9C651.45 551.9 641.2 540.15 641.2 526.9Z" fill="#ffe800" stroke="#ffe800" stroke-width="1.6" stroke-linejoin="round" filter="url(#b1)"/><path d="M641.8 506.8C641.8 493.55 652.05 481.8 682.8 481.8L726.2 481.8C731.6 481.8 735.2 484.2 735.2 487.8L735.2 544.3C735.2 547.9 731.6 550.3 726.2 550.3L682.8 550.3C652.05 550.3 641.8 538.55 641.8 525.3Z" fill="url(#g77)" filter="url(#b2)"/><rect x="737.8" y="501.2" width="9.8" height="29.7" rx="2" fill="#a8ff5a" filter="url(#b4)"/><rect x="640.7" y="507.05" width="2.6" height="18" rx="1.2" fill="#46ffba" filter="url(#b3)"/></g>
<rect x="774.2" y="418.9" width="6.6" height="213" fill="url(#jetg)"/>
<text x="784" y="423.35" font-size="12.2" text-anchor="start" fill="#262626">1</text>
<text x="784" y="444.65" font-size="12.2" text-anchor="start" fill="#262626">0.8</text>
<text x="784" y="465.95" font-size="12.2" text-anchor="start" fill="#262626">0.6</text>
<text x="784" y="487.25" font-size="12.2" text-anchor="start" fill="#262626">0.4</text>
<text x="784" y="508.55" font-size="12.2" text-anchor="start" fill="#262626">0.2</text>
<text x="784" y="529.85" font-size="12.2" text-anchor="start" fill="#262626">0</text>
<text x="784" y="551.15" font-size="12.2" text-anchor="start" fill="#262626">-0.2</text>
<text x="784" y="572.45" font-size="12.2" text-anchor="start" fill="#262626">-0.4</text>
<text x="784" y="593.75" font-size="12.2" text-anchor="start" fill="#262626">-0.6</text>
<text x="784" y="615.05" font-size="12.2" text-anchor="start" fill="#262626">-0.8</text>
<text x="784" y="636.35" font-size="12.2" text-anchor="start" fill="#262626">-1</text>
<path d="M769.4 395L775.9 383.3L782.4 395Z" fill="#000"/>
<text x="787.8" y="394.55" font-size="12.2" text-anchor="start" fill="#262626">0.93</text>
<path d="M769.4 642.2L775.9 653.8L782.4 642.2Z" fill="#000"/>
<text x="787.8" y="651.85" font-size="12.2" text-anchor="start" fill="#262626">-0.12</text>
<rect x="885.6" y="376.5" width="248.7" height="277.3" fill="#fff" stroke="#adadad" stroke-width="1.1"/>
<path d="M907.6 376.5v3.2M907.6 653.8v-3.2M1022.2 376.5v3.2M1022.2 653.8v-3.2M885.6 402.4h3.2M1134.3 402.4h-3.2M885.6 430.75h3.2M1134.3 430.75h-3.2M885.6 459.1h3.2M1134.3 459.1h-3.2M885.6 487.45h3.2M1134.3 487.45h-3.2M885.6 515.8h3.2M1134.3 515.8h-3.2M885.6 544.15h3.2M1134.3 544.15h-3.2M885.6 572.5h3.2M1134.3 572.5h-3.2M885.6 600.85h3.2M1134.3 600.85h-3.2M885.6 629.2h3.2M1134.3 629.2h-3.2" stroke="#adadad" stroke-width="1" fill="none" opacity="0.45"/>
<text x="908.5" y="668.6" font-size="12.6" text-anchor="middle" fill="#262626">30</text>
<text x="1023.1" y="668.6" font-size="12.6" text-anchor="middle" fill="#262626">32</text>
<text x="884.6" y="406.25" font-size="12.2" text-anchor="end" fill="#262626">2</text>
<text x="884.6" y="434.6" font-size="12.2" text-anchor="end" fill="#262626">1.5</text>
<text x="884.6" y="462.95" font-size="12.2" text-anchor="end" fill="#262626">1</text>
<text x="884.6" y="491.3" font-size="12.2" text-anchor="end" fill="#262626">0.5</text>
<text x="884.6" y="519.65" font-size="12.2" text-anchor="end" fill="#262626">0</text>
<text x="884.6" y="548" font-size="12.2" text-anchor="end" fill="#262626">-0.5</text>
<text x="884.6" y="576.35" font-size="12.2" text-anchor="end" fill="#262626">-1</text>
<text x="884.6" y="604.7" font-size="12.2" text-anchor="end" fill="#262626">-1.5</text>
<text x="884.6" y="633.05" font-size="12.2" text-anchor="end" fill="#262626">-2</text>
<text x="852.6" y="383.19" font-size="11.2" text-anchor="middle" fill="#262626">mm</text>
<text x="1124.4" y="668.79" font-size="11.2" text-anchor="middle" fill="#262626">mm</text>
<rect x="907.6" y="401.3" width="205.2" height="228.3" fill="url(#g78)"/>
<rect x="1010.8" y="442.6" width="1.3" height="15.4" fill="#6ad890" opacity="0.85" filter="url(#b1)"/>
<rect x="1010.8" y="573" width="1.3" height="15.4" fill="#6ad890" opacity="0.85" filter="url(#b1)"/>
<rect x="1142.7" y="418.9" width="6.6" height="213" fill="url(#jetg)"/>
<text x="1152.5" y="426.75" font-size="12.2" text-anchor="start" fill="#262626">5</text>
<text x="1152.5" y="447.1" font-size="12.2" text-anchor="start" fill="#262626">4.5</text>
<text x="1152.5" y="467.45" font-size="12.2" text-anchor="start" fill="#262626">4</text>
<text x="1152.5" y="487.8" font-size="12.2" text-anchor="start" fill="#262626">3.5</text>
<text x="1152.5" y="508.15" font-size="12.2" text-anchor="start" fill="#262626">3</text>
<text x="1152.5" y="528.5" font-size="12.2" text-anchor="start" fill="#262626">2.5</text>
<text x="1152.5" y="548.85" font-size="12.2" text-anchor="start" fill="#262626">2</text>
<text x="1152.5" y="569.2" font-size="12.2" text-anchor="start" fill="#262626">1.5</text>
<text x="1152.5" y="589.55" font-size="12.2" text-anchor="start" fill="#262626">1</text>
<text x="1152.5" y="609.9" font-size="12.2" text-anchor="start" fill="#262626">0.5</text>
<text x="1152.5" y="630.25" font-size="12.2" text-anchor="start" fill="#262626">0</text>
<path d="M1137.9 395L1144.4 383.3L1150.9 395Z" fill="#000"/>
<text x="1156.3" y="394.55" font-size="12.2" fill="#262626">5.09×10<tspan font-size="8.2" dy="-5.2">7</tspan></text>
<text x="1148.1" y="410.95" font-size="12.2" fill="#262626">×10<tspan font-size="8.2" dy="-5.2">7</tspan></text>
<path d="M1137.9 642.2L1144.4 653.8L1150.9 642.2Z" fill="#000"/>
<text x="1156.3" y="651.85" font-size="12.2" fill="#262626">-1.37×10<tspan font-size="8.2" dy="-5.2">6</tspan></text>
<rect x="1266" y="376.5" width="249.3" height="277.3" fill="#fff" stroke="#adadad" stroke-width="1.1"/>
<path d="M1288 376.5v3.2M1288 653.8v-3.2M1402.6 376.5v3.2M1402.6 653.8v-3.2M1266 402.4h3.2M1515.3 402.4h-3.2M1266 430.75h3.2M1515.3 430.75h-3.2M1266 459.1h3.2M1515.3 459.1h-3.2M1266 487.45h3.2M1515.3 487.45h-3.2M1266 515.8h3.2M1515.3 515.8h-3.2M1266 544.15h3.2M1515.3 544.15h-3.2M1266 572.5h3.2M1515.3 572.5h-3.2M1266 600.85h3.2M1515.3 600.85h-3.2M1266 629.2h3.2M1515.3 629.2h-3.2" stroke="#adadad" stroke-width="1" fill="none" opacity="0.45"/>
<text x="1288.9" y="668.6" font-size="12.6" text-anchor="middle" fill="#262626">30</text>
<text x="1403.5" y="668.6" font-size="12.6" text-anchor="middle" fill="#262626">32</text>
<text x="1265" y="406.25" font-size="12.2" text-anchor="end" fill="#262626">2</text>
<text x="1265" y="434.6" font-size="12.2" text-anchor="end" fill="#262626">1.5</text>
<text x="1265" y="462.95" font-size="12.2" text-anchor="end" fill="#262626">1</text>
<text x="1265" y="491.3" font-size="12.2" text-anchor="end" fill="#262626">0.5</text>
<text x="1265" y="519.65" font-size="12.2" text-anchor="end" fill="#262626">0</text>
<text x="1265" y="548" font-size="12.2" text-anchor="end" fill="#262626">-0.5</text>
<text x="1265" y="576.35" font-size="12.2" text-anchor="end" fill="#262626">-1</text>
<text x="1265" y="604.7" font-size="12.2" text-anchor="end" fill="#262626">-1.5</text>
<text x="1265" y="633.05" font-size="12.2" text-anchor="end" fill="#262626">-2</text>
<text x="1233" y="383.19" font-size="11.2" text-anchor="middle" fill="#262626">mm</text>
<text x="1505.4" y="668.79" font-size="11.2" text-anchor="middle" fill="#262626">mm</text>
<rect x="1288" y="401.3" width="103" height="228.3" fill="#2cfad4"/>
<rect x="1288" y="402.3" width="2.2" height="226.3" fill="#28aafa"/>
<rect x="1390.8" y="401.3" width="102.8" height="228.3" fill="#000080"/>
<rect x="1523.7" y="418.9" width="6.6" height="213" fill="url(#jetg)"/>
<text x="1533.5" y="450.75" font-size="12.2" text-anchor="start" fill="#262626">1</text>
<text x="1533.5" y="487.75" font-size="12.2" text-anchor="start" fill="#262626">0.8</text>
<text x="1533.5" y="524.75" font-size="12.2" text-anchor="start" fill="#262626">0.6</text>
<text x="1533.5" y="561.75" font-size="12.2" text-anchor="start" fill="#262626">0.4</text>
<text x="1533.5" y="598.75" font-size="12.2" text-anchor="start" fill="#262626">0.2</text>
<text x="1533.5" y="635.75" font-size="12.2" text-anchor="start" fill="#262626">0</text>
<path d="M1518.9 395L1525.4 383.3L1531.9 395Z" fill="#000"/>
<text x="1537.3" y="394.55" font-size="12.2" fill="#262626">1.14×10<tspan font-size="8.2" dy="-5.2">8</tspan></text>
<text x="1529.1" y="410.95" font-size="12.2" fill="#262626">×10<tspan font-size="8.2" dy="-5.2">8</tspan></text>
<path d="M1518.9 642.2L1525.4 653.8L1531.9 642.2Z" fill="#000"/>
<text x="1537.3" y="651.85" font-size="12.2" fill="#262626">-3.1×10<tspan font-size="8.2" dy="-5.2">3</tspan></text>
<rect x="165.5" y="697.4" width="249.2" height="277.2" fill="#fff" stroke="#adadad" stroke-width="1.1"/>
<path d="M195.6 697.4v3.2M195.6 974.6v-3.2M301.8 697.4v3.2M301.8 974.6v-3.2M408 697.4v3.2M408 974.6v-3.2M165.5 731.7h3.2M414.7 731.7h-3.2M165.5 758.3h3.2M414.7 758.3h-3.2M165.5 784.9h3.2M414.7 784.9h-3.2M165.5 811.5h3.2M414.7 811.5h-3.2M165.5 838.1h3.2M414.7 838.1h-3.2M165.5 864.7h3.2M414.7 864.7h-3.2M165.5 891.3h3.2M414.7 891.3h-3.2M165.5 917.9h3.2M414.7 917.9h-3.2M165.5 944.5h3.2M414.7 944.5h-3.2M165.5 971.1h3.2M414.7 971.1h-3.2" stroke="#adadad" stroke-width="1" fill="none" opacity="0.45"/>
<text x="196.5" y="989.4" font-size="12.6" text-anchor="middle" fill="#262626">30</text>
<text x="302.7" y="989.4" font-size="12.6" text-anchor="middle" fill="#262626">32</text>
<text x="164.5" y="735.55" font-size="12.2" text-anchor="end" fill="#262626">2</text>
<text x="164.5" y="762.15" font-size="12.2" text-anchor="end" fill="#262626">1.5</text>
<text x="164.5" y="788.75" font-size="12.2" text-anchor="end" fill="#262626">1</text>
<text x="164.5" y="815.35" font-size="12.2" text-anchor="end" fill="#262626">0.5</text>
<text x="164.5" y="841.95" font-size="12.2" text-anchor="end" fill="#262626">0</text>
<text x="164.5" y="868.55" font-size="12.2" text-anchor="end" fill="#262626">-0.5</text>
<text x="164.5" y="895.15" font-size="12.2" text-anchor="end" fill="#262626">-1</text>
<text x="164.5" y="921.75" font-size="12.2" text-anchor="end" fill="#262626">-1.5</text>
<text x="164.5" y="948.35" font-size="12.2" text-anchor="end" fill="#262626">-2</text>
<text x="164.5" y="974.95" font-size="12.2" text-anchor="end" fill="#262626">-2.5</text>
<text x="132.5" y="704.09" font-size="11.2" text-anchor="middle" fill="#262626">mm</text>
<text x="404.8" y="989.59" font-size="11.2" text-anchor="middle" fill="#262626">mm</text>
<g mask="url(#m79)"><rect x="193.4" y="729.4" width="98.6" height="217.4" fill="#be0000"/><rect x="195.1" y="834.09" width="5.33" height="8.41" fill="url(#g81)"/><rect x="199.83" y="833.23" width="5.33" height="10.13" fill="url(#g82)"/><rect x="204.56" y="832.31" width="5.33" height="11.98" fill="url(#g83)"/><rect x="209.29" y="831.31" width="5.33" height="13.98" fill="url(#g84)"/><rect x="214.02" y="830.23" width="5.33" height="16.13" fill="url(#g85)"/><rect x="218.75" y="829.07" width="5.33" height="18.45" fill="url(#g86)"/><rect x="223.48" y="827.82" width="5.33" height="20.95" fill="url(#g87)"/><rect x="228.21" y="826.48" width="5.33" height="23.65" fill="url(#g88)"/><rect x="232.94" y="825.02" width="5.33" height="26.55" fill="url(#g89)"/><rect x="237.67" y="823.46" width="5.33" height="29.68" fill="url(#g90)"/><rect x="242.4" y="821.77" width="5.33" height="33.06" fill="url(#g91)"/><rect x="247.13" y="819.95" width="5.33" height="36.7" fill="url(#g92)"/><rect x="251.86" y="817.99" width="5.33" height="40.62" fill="url(#g93)"/><rect x="256.59" y="815.88" width="5.33" height="44.85" fill="url(#g94)"/><rect x="261.32" y="813.6" width="5.33" height="49.4" fill="url(#g95)"/><rect x="266.05" y="811.14" width="5.33" height="54.31" fill="url(#g96)"/><rect x="270.78" y="808.5" width="5.33" height="59.61" fill="url(#g97)"/><rect x="275.51" y="805.64" width="5.33" height="65.31" fill="url(#g98)"/><rect x="280.24" y="802.57" width="5.33" height="71.46" fill="url(#g99)"/><rect x="284.97" y="799.25" width="5.33" height="78.09" fill="url(#g100)"/></g>
<rect x="292.2" y="731.2" width="95.3" height="213.4" fill="#f70a00"/>
<g clip-path="url(#c101)"><path d="M292.4 782.6C292.4 765.11 300.98 749.6 331.4 749.6L376.8 749.6C381.2 749.6 384.8 753.65 384.8 758.6L384.8 761.6Q384.8 763.6 386.8 763.6L391.5 763.6L391.5 913.4L386.8 913.4Q384.8 913.4 384.8 915.4L384.8 918.4C384.8 923.35 381.2 927.4 376.8 927.4L331.4 927.4C300.98 927.4 292.4 911.89 292.4 894.4Z" fill="#ff6e00" stroke="#ff6e00" stroke-width="3.6" stroke-linejoin="round" filter="url(#b2)"/><path d="M292.4 782.6C292.4 765.11 300.98 749.6 331.4 749.6L376.8 749.6C381.2 749.6 384.8 753.65 384.8 758.6L384.8 761.6Q384.8 763.6 386.8 763.6L391.5 763.6L391.5 913.4L386.8 913.4Q384.8 913.4 384.8 915.4L384.8 918.4C384.8 923.35 381.2 927.4 376.8 927.4L331.4 927.4C300.98 927.4 292.4 911.89 292.4 894.4Z" fill="#ffee00" stroke="#ffee00" stroke-width="1.4" stroke-linejoin="round" filter="url(#b1)"/><path d="M293.2 783.6C293.2 766.11 301.78 750.6 332.2 750.6L376.5 750.6C380.9 750.6 384.5 754.65 384.5 759.6L384.5 772.6Q384.5 774.6 386.5 774.6L391.5 774.6L391.5 902.4L386.5 902.4Q384.5 902.4 384.5 904.4L384.5 917.4C384.5 922.35 380.9 926.4 376.5 926.4L332.2 926.4C301.78 926.4 293.2 910.89 293.2 893.4Z" fill="#c8ff3c" filter="url(#b2)"/><path d="M294 784.6C294 767.11 302.58 751.6 333 751.6L376.2 751.6C380.6 751.6 384.2 755.65 384.2 760.6L384.2 783.6Q384.2 785.6 386.2 785.6L391.5 785.6L391.5 891.4L386.2 891.4Q384.2 891.4 384.2 893.4L384.2 916.4C384.2 921.35 380.6 925.4 376.2 925.4L333 925.4C302.58 925.4 294 909.89 294 892.4Z" fill="#54ffac" filter="url(#b2)"/><path d="M298.5 784.8C298.5 767.95 306.07 753 332.9 753L378.4 753C383.09 753 385.1 765 385.1 793L385.1 884C385.1 912 383.09 924 378.4 924L332.9 924C306.07 924 298.5 909.05 298.5 892.2Z" fill="#9eff62" filter="url(#b5)"/></g>
<rect x="423.1" y="739.8" width="6.6" height="213" fill="url(#jetg)"/>
<text x="432.9" y="744.45" font-size="12.2" text-anchor="start" fill="#262626">1</text>
<text x="432.9" y="765.75" font-size="12.2" text-anchor="start" fill="#262626">0.8</text>
<text x="432.9" y="787.05" font-size="12.2" text-anchor="start" fill="#262626">0.6</text>
<text x="432.9" y="808.35" font-size="12.2" text-anchor="start" fill="#262626">0.4</text>
<text x="432.9" y="829.65" font-size="12.2" text-anchor="start" fill="#262626">0.2</text>
<text x="432.9" y="850.95" font-size="12.2" text-anchor="start" fill="#262626">0</text>
<text x="432.9" y="872.25" font-size="12.2" text-anchor="start" fill="#262626">-0.2</text>
<text x="432.9" y="893.55" font-size="12.2" text-anchor="start" fill="#262626">-0.4</text>
<text x="432.9" y="914.85" font-size="12.2" text-anchor="start" fill="#262626">-0.6</text>
<text x="432.9" y="936.15" font-size="12.2" text-anchor="start" fill="#262626">-0.8</text>
<text x="432.9" y="957.45" font-size="12.2" text-anchor="start" fill="#262626">-1</text>
<path d="M418.3 715.9L424.8 704.2L431.3 715.9Z" fill="#000"/>
<text x="436.7" y="715.45" font-size="12.2" text-anchor="start" fill="#262626">0.93</text>
<path d="M418.3 963L424.8 974.6L431.3 963Z" fill="#000"/>
<text x="436.7" y="972.65" font-size="12.2" text-anchor="start" fill="#262626">-0.46</text>
<rect x="516.4" y="697.4" width="249.4" height="277.2" fill="#fff" stroke="#adadad" stroke-width="1.1"/>
<path d="M547 697.4v3.2M547 974.6v-3.2M653.2 697.4v3.2M653.2 974.6v-3.2M759.4 697.4v3.2M759.4 974.6v-3.2M516.4 731.7h3.2M765.8 731.7h-3.2M516.4 758.3h3.2M765.8 758.3h-3.2M516.4 784.9h3.2M765.8 784.9h-3.2M516.4 811.5h3.2M765.8 811.5h-3.2M516.4 838.1h3.2M765.8 838.1h-3.2M516.4 864.7h3.2M765.8 864.7h-3.2M516.4 891.3h3.2M765.8 891.3h-3.2M516.4 917.9h3.2M765.8 917.9h-3.2M516.4 944.5h3.2M765.8 944.5h-3.2M516.4 971.1h3.2M765.8 971.1h-3.2" stroke="#adadad" stroke-width="1" fill="none" opacity="0.45"/>
<text x="547.9" y="989.4" font-size="12.6" text-anchor="middle" fill="#262626">30</text>
<text x="654.1" y="989.4" font-size="12.6" text-anchor="middle" fill="#262626">32</text>
<text x="515.4" y="735.55" font-size="12.2" text-anchor="end" fill="#262626">2</text>
<text x="515.4" y="762.15" font-size="12.2" text-anchor="end" fill="#262626">1.5</text>
<text x="515.4" y="788.75" font-size="12.2" text-anchor="end" fill="#262626">1</text>
<text x="515.4" y="815.35" font-size="12.2" text-anchor="end" fill="#262626">0.5</text>
<text x="515.4" y="841.95" font-size="12.2" text-anchor="end" fill="#262626">0</text>
<text x="515.4" y="868.55" font-size="12.2" text-anchor="end" fill="#262626">-0.5</text>
<text x="515.4" y="895.15" font-size="12.2" text-anchor="end" fill="#262626">-1</text>
<text x="515.4" y="921.75" font-size="12.2" text-anchor="end" fill="#262626">-1.5</text>
<text x="515.4" y="948.35" font-size="12.2" text-anchor="end" fill="#262626">-2</text>
<text x="515.4" y="974.95" font-size="12.2" text-anchor="end" fill="#262626">-2.5</text>
<text x="483.4" y="704.09" font-size="11.2" text-anchor="middle" fill="#262626">mm</text>
<text x="755.9" y="989.59" font-size="11.2" text-anchor="middle" fill="#262626">mm</text>
<g mask="url(#m102)"><rect x="544.7" y="729.4" width="98.9" height="217.4" fill="#7e0000"/></g>
<rect x="643.4" y="731.2" width="95.2" height="213.4" fill="#ff2800"/>
<g clip-path="url(#c104)"><path d="M643.6 822.1C643.6 813.58 652.1 806.6 677.6 806.6L724 806.6C730.05 806.6 735 810.43 735 815.1L735 814.9Q735 817.9 738 817.9L742.6 817.9L742.6 859.1L738 859.1Q735 859.1 735 862.1L735 861.9C735 866.57 730.05 870.4 724 870.4L677.6 870.4C652.1 870.4 643.6 863.42 643.6 854.9Z" fill="#ff8200" stroke="#ff8200" stroke-width="4.0" stroke-linejoin="round" filter="url(#b2)"/><path d="M643.6 822.1C643.6 813.58 652.1 806.6 677.6 806.6L724 806.6C730.05 806.6 735 810.43 735 815.1L735 814.9Q735 817.9 738 817.9L742.6 817.9L742.6 859.1L738 859.1Q735 859.1 735 862.1L735 861.9C735 866.57 730.05 870.4 724 870.4L677.6 870.4C652.1 870.4 643.6 863.42 643.6 854.9Z" fill="#ffe800" stroke="#ffe800" stroke-width="1.6" stroke-linejoin="round" filter="url(#b1)"/><path d="M644.2 823.7C644.2 815.18 652.7 808.2 678.2 808.2L723.6 808.2C729.65 808.2 734.6 812.03 734.6 816.7L734.6 860.3C734.6 864.97 729.65 868.8 723.6 868.8L678.2 868.8C652.7 868.8 644.2 861.82 644.2 853.3Z" fill="url(#g105)" filter="url(#b2)"/><rect x="737.2" y="830.9" width="5.6" height="15.2" rx="2" fill="#68ff9e" filter="url(#b4)"/><rect x="643.1" y="830.5" width="2.6" height="16" rx="1.2" fill="#46ffba" filter="url(#b3)"/></g>
<rect x="774.2" y="739.8" width="6.6" height="213" fill="url(#jetg)"/>
<text x="784" y="744.45" font-size="12.2" text-anchor="start" fill="#262626">1</text>
<text x="784" y="765.75" font-size="12.2" text-anchor="start" fill="#262626">0.8</text>
<text x="784" y="787.05" font-size="12.2" text-anchor="start" fill="#262626">0.6</text>
<text x="784" y="808.35" font-size="12.2" text-anchor="start" fill="#262626">0.4</text>
<text x="784" y="829.65" font-size="12.2" text-anchor="start" fill="#262626">0.2</text>
<text x="784" y="850.95" font-size="12.2" text-anchor="start" fill="#262626">0</text>
<text x="784" y="872.25" font-size="12.2" text-anchor="start" fill="#262626">-0.2</text>
<text x="784" y="893.55" font-size="12.2" text-anchor="start" fill="#262626">-0.4</text>
<text x="784" y="914.85" font-size="12.2" text-anchor="start" fill="#262626">-0.6</text>
<text x="784" y="936.15" font-size="12.2" text-anchor="start" fill="#262626">-0.8</text>
<text x="784" y="957.45" font-size="12.2" text-anchor="start" fill="#262626">-1</text>
<path d="M769.4 715.9L775.9 704.2L782.4 715.9Z" fill="#000"/>
<text x="787.8" y="715.45" font-size="12.2" text-anchor="start" fill="#262626">1.06</text>
<path d="M769.4 963L775.9 974.6L782.4 963Z" fill="#000"/>
<text x="787.8" y="972.65" font-size="12.2" text-anchor="start" fill="#262626">-0.11</text>
<rect x="885.6" y="697.4" width="248.7" height="277.2" fill="#fff" stroke="#adadad" stroke-width="1.1"/>
<path d="M912 697.4v3.2M912 974.6v-3.2M1020.2 697.4v3.2M1020.2 974.6v-3.2M1128.4 697.4v3.2M1128.4 974.6v-3.2M885.6 728.1h3.2M1134.3 728.1h-3.2M885.6 755.15h3.2M1134.3 755.15h-3.2M885.6 782.2h3.2M1134.3 782.2h-3.2M885.6 809.25h3.2M1134.3 809.25h-3.2M885.6 836.3h3.2M1134.3 836.3h-3.2M885.6 863.35h3.2M1134.3 863.35h-3.2M885.6 890.4h3.2M1134.3 890.4h-3.2M885.6 917.45h3.2M1134.3 917.45h-3.2M885.6 944.5h3.2M1134.3 944.5h-3.2M885.6 971.55h3.2M1134.3 971.55h-3.2" stroke="#adadad" stroke-width="1" fill="none" opacity="0.45"/>
<text x="912.9" y="989.4" font-size="12.6" text-anchor="middle" fill="#262626">30</text>
<text x="1021.1" y="989.4" font-size="12.6" text-anchor="middle" fill="#262626">32</text>
<text x="884.6" y="731.95" font-size="12.2" text-anchor="end" fill="#262626">2</text>
<text x="884.6" y="759" font-size="12.2" text-anchor="end" fill="#262626">1.5</text>
<text x="884.6" y="786.05" font-size="12.2" text-anchor="end" fill="#262626">1</text>
<text x="884.6" y="813.1" font-size="12.2" text-anchor="end" fill="#262626">0.5</text>
<text x="884.6" y="840.15" font-size="12.2" text-anchor="end" fill="#262626">0</text>
<text x="884.6" y="867.2" font-size="12.2" text-anchor="end" fill="#262626">-0.5</text>
<text x="884.6" y="894.25" font-size="12.2" text-anchor="end" fill="#262626">-1</text>
<text x="884.6" y="921.3" font-size="12.2" text-anchor="end" fill="#262626">-1.5</text>
<text x="884.6" y="948.35" font-size="12.2" text-anchor="end" fill="#262626">-2</text>
<text x="884.6" y="975.4" font-size="12.2" text-anchor="end" fill="#262626">-2.5</text>
<text x="852.6" y="704.09" font-size="11.2" text-anchor="middle" fill="#262626">mm</text>
<text x="1124.4" y="989.59" font-size="11.2" text-anchor="middle" fill="#262626">mm</text>
<g mask="url(#m106)"><rect x="911.2" y="725.8" width="5.42" height="221" fill="#00009e"/><rect x="916.03" y="725.8" width="5.42" height="221" fill="#002eff"/><rect x="920.85" y="725.8" width="5.42" height="221" fill="#00d1ff"/><rect x="925.68" y="725.8" width="5.42" height="221" fill="#4dffb2"/><rect x="930.5" y="725.8" width="5.42" height="221" fill="#c7ff38"/><rect x="935.33" y="725.8" width="5.42" height="221" fill="#ffc700"/><rect x="940.15" y="725.8" width="5.42" height="221" fill="#ff7500"/><rect x="944.98" y="725.8" width="5.42" height="221" fill="#ff3800"/><rect x="949.8" y="725.8" width="5.42" height="221" fill="#ff0500"/><rect x="954.62" y="725.8" width="5.42" height="221" fill="#e50000"/><rect x="959.45" y="725.8" width="5.42" height="221" fill="#c70000"/><rect x="964.28" y="725.8" width="5.42" height="221" fill="#ad0000"/><rect x="969.1" y="725.8" width="5.42" height="221" fill="#990000"/><rect x="973.93" y="725.8" width="5.42" height="221" fill="#8a0000"/><rect x="978.75" y="725.8" width="5.42" height="221" fill="#8f0000"/><rect x="983.58" y="725.8" width="5.42" height="221" fill="#a80000"/><rect x="988.4" y="725.8" width="5.42" height="221" fill="#cc0000"/><rect x="993.23" y="725.8" width="5.42" height="221" fill="#fa0000"/><rect x="998.05" y="725.8" width="5.42" height="221" fill="#ff4200"/><rect x="1002.88" y="725.8" width="5.42" height="221" fill="#ff9400"/></g>
<rect x="1009.8" y="728.1" width="97.2" height="216.5" fill="url(#g108)"/>
<rect x="1142.7" y="739.8" width="6.6" height="213" fill="url(#jetg)"/>
<text x="1152.5" y="766.45" font-size="12.2" text-anchor="start" fill="#262626">2.6</text>
<text x="1152.5" y="798.95" font-size="12.2" text-anchor="start" fill="#262626">2.55</text>
<text x="1152.5" y="831.45" font-size="12.2" text-anchor="start" fill="#262626">2.5</text>
<text x="1152.5" y="863.95" font-size="12.2" text-anchor="start" fill="#262626">2.45</text>
<text x="1152.5" y="896.45" font-size="12.2" text-anchor="start" fill="#262626">2.4</text>
<text x="1152.5" y="928.95" font-size="12.2" text-anchor="start" fill="#262626">2.35</text>
<path d="M1137.9 715.9L1144.4 704.2L1150.9 715.9Z" fill="#000"/>
<text x="1156.3" y="715.45" font-size="12.2" fill="#262626">2.64×10<tspan font-size="8.2" dy="-5.2">8</tspan></text>
<text x="1148.1" y="731.85" font-size="12.2" fill="#262626">×10<tspan font-size="8.2" dy="-5.2">8</tspan></text>
<path d="M1137.9 963L1144.4 974.6L1150.9 963Z" fill="#000"/>
<text x="1156.3" y="972.65" font-size="12.2" fill="#262626">2.31×10<tspan font-size="8.2" dy="-5.2">8</tspan></text>
<rect x="1266" y="697.4" width="249.3" height="277.2" fill="#fff" stroke="#adadad" stroke-width="1.1"/>
<path d="M1292.6 697.4v3.2M1292.6 974.6v-3.2M1400.8 697.4v3.2M1400.8 974.6v-3.2M1509 697.4v3.2M1509 974.6v-3.2M1266 728.1h3.2M1515.3 728.1h-3.2M1266 755.15h3.2M1515.3 755.15h-3.2M1266 782.2h3.2M1515.3 782.2h-3.2M1266 809.25h3.2M1515.3 809.25h-3.2M1266 836.3h3.2M1515.3 836.3h-3.2M1266 863.35h3.2M1515.3 863.35h-3.2M1266 890.4h3.2M1515.3 890.4h-3.2M1266 917.45h3.2M1515.3 917.45h-3.2M1266 944.5h3.2M1515.3 944.5h-3.2M1266 971.55h3.2M1515.3 971.55h-3.2" stroke="#adadad" stroke-width="1" fill="none" opacity="0.45"/>
<text x="1293.5" y="989.4" font-size="12.6" text-anchor="middle" fill="#262626">30</text>
<text x="1401.7" y="989.4" font-size="12.6" text-anchor="middle" fill="#262626">32</text>
<text x="1265" y="731.95" font-size="12.2" text-anchor="end" fill="#262626">2</text>
<text x="1265" y="759" font-size="12.2" text-anchor="end" fill="#262626">1.5</text>
<text x="1265" y="786.05" font-size="12.2" text-anchor="end" fill="#262626">1</text>
<text x="1265" y="813.1" font-size="12.2" text-anchor="end" fill="#262626">0.5</text>
<text x="1265" y="840.15" font-size="12.2" text-anchor="end" fill="#262626">0</text>
<text x="1265" y="867.2" font-size="12.2" text-anchor="end" fill="#262626">-0.5</text>
<text x="1265" y="894.25" font-size="12.2" text-anchor="end" fill="#262626">-1</text>
<text x="1265" y="921.3" font-size="12.2" text-anchor="end" fill="#262626">-1.5</text>
<text x="1265" y="948.35" font-size="12.2" text-anchor="end" fill="#262626">-2</text>
<text x="1265" y="975.4" font-size="12.2" text-anchor="end" fill="#262626">-2.5</text>
<text x="1233" y="704.09" font-size="11.2" text-anchor="middle" fill="#262626">mm</text>
<text x="1505.4" y="989.59" font-size="11.2" text-anchor="middle" fill="#262626">mm</text>
<g mask="url(#m109)"><rect x="1292.5" y="725.8" width="95.9" height="221" fill="#880000"/></g>
<rect x="1390.2" y="728.1" width="97.5" height="216.5" fill="#000080"/>
<rect x="1523.7" y="739.8" width="6.6" height="213" fill="url(#jetg)"/>
<text x="1533.5" y="747.45" font-size="12.2" text-anchor="start" fill="#262626">4.5</text>
<text x="1533.5" y="770.65" font-size="12.2" text-anchor="start" fill="#262626">4</text>
<text x="1533.5" y="793.85" font-size="12.2" text-anchor="start" fill="#262626">3.5</text>
<text x="1533.5" y="817.05" font-size="12.2" text-anchor="start" fill="#262626">3</text>
<text x="1533.5" y="840.25" font-size="12.2" text-anchor="start" fill="#262626">2.5</text>
<text x="1533.5" y="863.45" font-size="12.2" text-anchor="start" fill="#262626">2</text>
<text x="1533.5" y="886.65" font-size="12.2" text-anchor="start" fill="#262626">1.5</text>
<text x="1533.5" y="909.85" font-size="12.2" text-anchor="start" fill="#262626">1</text>
<text x="1533.5" y="933.05" font-size="12.2" text-anchor="start" fill="#262626">0.5</text>
<path d="M1518.9 715.9L1525.4 704.2L1531.9 715.9Z" fill="#000"/>
<text x="1537.3" y="715.45" font-size="12.2" fill="#262626">4.56×10<tspan font-size="8.2" dy="-5.2">9</tspan></text>
<text x="1529.1" y="731.85" font-size="12.2" fill="#262626">×10<tspan font-size="8.2" dy="-5.2">9</tspan></text>
<path d="M1518.9 963L1525.4 974.6L1531.9 963Z" fill="#000"/>
<text x="1537.3" y="972.65" font-size="12.2" fill="#262626">3.9×10<tspan font-size="8.2" dy="-5.2">5</tspan></text>
</g>
<g class="big">
<text x="288.9" y="21.6" font-size="31.5" text-anchor="middle">t=13s</text>
<text x="650.7" y="21.6" font-size="31.5" text-anchor="middle">t=60s</text>
<text x="998.8" y="21.6" font-size="31.5" text-anchor="middle">t=13s</text>
<text x="1372.8" y="21.6" font-size="31.5" text-anchor="middle">t=60s</text>
<text x="-0.4" y="214.4" font-size="30.8" text-anchor="start">Model A</text>
<text x="-0.4" y="533.5" font-size="30.8" text-anchor="start">Model B</text>
<text x="-0.4" y="853.7" font-size="30.8" text-anchor="start">Model C</text>
<text x="442.6 475.8 491.8" y="1063.6" font-size="30" letter-spacing="0">（a）</text>
<text x="1180.8 1213.7 1231.7" y="1063.8" font-size="30" letter-spacing="0">（b）</text>
</g>
</svg>
</body>
</html>
